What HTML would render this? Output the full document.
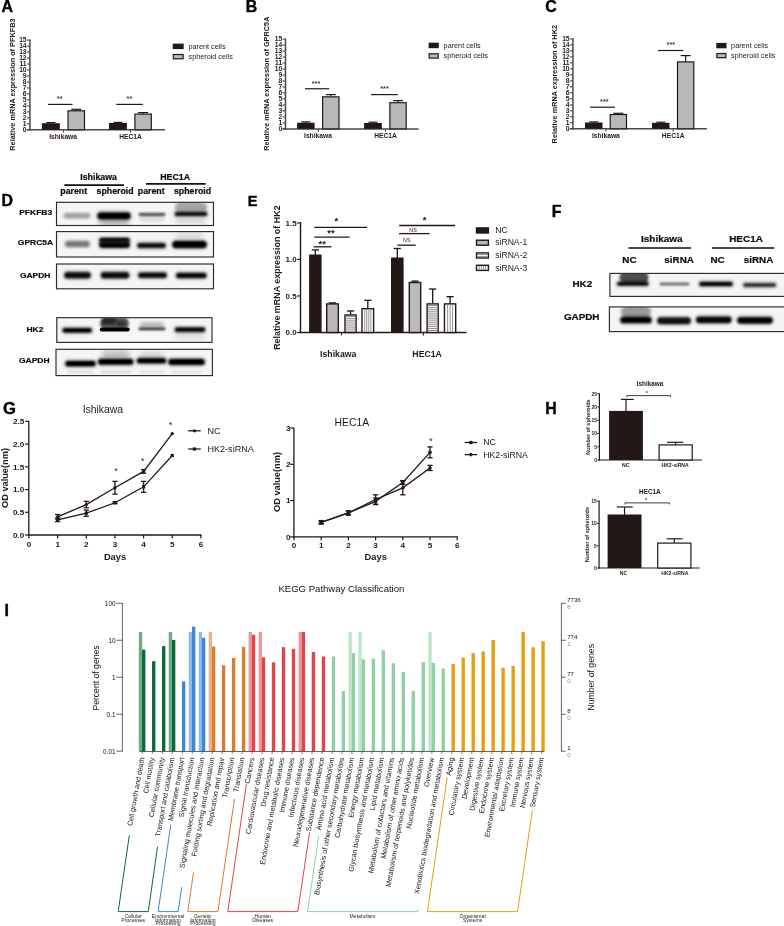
<!DOCTYPE html>
<html><head><meta charset="utf-8"><title>Figure</title>
<style>html,body{margin:0;padding:0;background:#fff;}svg{display:block;font-family:'Liberation Sans', sans-serif;}</style>
</head><body>
<svg width="784" height="926" viewBox="0 0 784 926">
<rect x="0" y="0" width="784" height="926" fill="#ffffff"/>
<line x1="29.90" y1="39.50" x2="29.90" y2="130.50" stroke="#4a4a4a" stroke-width="1.5"/>
<line x1="26.90" y1="129.80" x2="165.00" y2="129.80" stroke="#4a4a4a" stroke-width="1.5"/>
<line x1="26.90" y1="129.80" x2="29.90" y2="129.80" stroke="#4a4a4a" stroke-width="1.1"/>
<text x="26.60" y="132.15" font-size="6.7" font-weight="bold" text-anchor="end" fill="#231815">0</text>
<line x1="26.90" y1="123.82" x2="29.90" y2="123.82" stroke="#4a4a4a" stroke-width="1.1"/>
<text x="26.60" y="126.17" font-size="6.7" font-weight="bold" text-anchor="end" fill="#231815">1</text>
<line x1="26.90" y1="117.84" x2="29.90" y2="117.84" stroke="#4a4a4a" stroke-width="1.1"/>
<text x="26.60" y="120.19" font-size="6.7" font-weight="bold" text-anchor="end" fill="#231815">2</text>
<line x1="26.90" y1="111.86" x2="29.90" y2="111.86" stroke="#4a4a4a" stroke-width="1.1"/>
<text x="26.60" y="114.21" font-size="6.7" font-weight="bold" text-anchor="end" fill="#231815">3</text>
<line x1="26.90" y1="105.88" x2="29.90" y2="105.88" stroke="#4a4a4a" stroke-width="1.1"/>
<text x="26.60" y="108.23" font-size="6.7" font-weight="bold" text-anchor="end" fill="#231815">4</text>
<line x1="26.90" y1="99.90" x2="29.90" y2="99.90" stroke="#4a4a4a" stroke-width="1.1"/>
<text x="26.60" y="102.25" font-size="6.7" font-weight="bold" text-anchor="end" fill="#231815">5</text>
<line x1="26.90" y1="93.92" x2="29.90" y2="93.92" stroke="#4a4a4a" stroke-width="1.1"/>
<text x="26.60" y="96.27" font-size="6.7" font-weight="bold" text-anchor="end" fill="#231815">6</text>
<line x1="26.90" y1="87.94" x2="29.90" y2="87.94" stroke="#4a4a4a" stroke-width="1.1"/>
<text x="26.60" y="90.29" font-size="6.7" font-weight="bold" text-anchor="end" fill="#231815">7</text>
<line x1="26.90" y1="81.96" x2="29.90" y2="81.96" stroke="#4a4a4a" stroke-width="1.1"/>
<text x="26.60" y="84.31" font-size="6.7" font-weight="bold" text-anchor="end" fill="#231815">8</text>
<line x1="26.90" y1="75.98" x2="29.90" y2="75.98" stroke="#4a4a4a" stroke-width="1.1"/>
<text x="26.60" y="78.33" font-size="6.7" font-weight="bold" text-anchor="end" fill="#231815">9</text>
<line x1="26.90" y1="70.00" x2="29.90" y2="70.00" stroke="#4a4a4a" stroke-width="1.1"/>
<text x="26.60" y="72.35" font-size="6.7" font-weight="bold" text-anchor="end" fill="#231815">10</text>
<line x1="26.90" y1="64.02" x2="29.90" y2="64.02" stroke="#4a4a4a" stroke-width="1.1"/>
<text x="26.60" y="66.37" font-size="6.7" font-weight="bold" text-anchor="end" fill="#231815">11</text>
<line x1="26.90" y1="58.04" x2="29.90" y2="58.04" stroke="#4a4a4a" stroke-width="1.1"/>
<text x="26.60" y="60.39" font-size="6.7" font-weight="bold" text-anchor="end" fill="#231815">12</text>
<line x1="26.90" y1="52.06" x2="29.90" y2="52.06" stroke="#4a4a4a" stroke-width="1.1"/>
<text x="26.60" y="54.41" font-size="6.7" font-weight="bold" text-anchor="end" fill="#231815">13</text>
<line x1="26.90" y1="46.08" x2="29.90" y2="46.08" stroke="#4a4a4a" stroke-width="1.1"/>
<text x="26.60" y="48.43" font-size="6.7" font-weight="bold" text-anchor="end" fill="#231815">14</text>
<line x1="26.90" y1="40.10" x2="29.90" y2="40.10" stroke="#4a4a4a" stroke-width="1.1"/>
<text x="26.60" y="42.45" font-size="6.7" font-weight="bold" text-anchor="end" fill="#231815">15</text>
<text x="15.20" y="84.60" font-size="7.32" font-weight="bold" text-anchor="middle" fill="#231815" transform="rotate(-90 15.20 84.60)">Relative mRNA expression of PFKFB3</text>
<rect x="41.90" y="123.20" width="17.90" height="6.60" fill="#231815"/>
<line x1="50.85" y1="122.60" x2="50.85" y2="123.70" stroke="#231815" stroke-width="1.2"/>
<line x1="46.35" y1="122.60" x2="55.35" y2="122.60" stroke="#231815" stroke-width="1.2"/>
<rect x="68.00" y="110.80" width="16.50" height="19.00" fill="#b9b9ba" stroke="#231815" stroke-width="1.2"/>
<line x1="76.25" y1="109.30" x2="76.25" y2="110.70" stroke="#231815" stroke-width="1.2"/>
<line x1="71.25" y1="109.30" x2="81.25" y2="109.30" stroke="#231815" stroke-width="1.2"/>
<rect x="109.00" y="123.00" width="17.90" height="6.80" fill="#231815"/>
<line x1="117.95" y1="122.40" x2="117.95" y2="123.50" stroke="#231815" stroke-width="1.2"/>
<line x1="113.45" y1="122.40" x2="122.45" y2="122.40" stroke="#231815" stroke-width="1.2"/>
<rect x="134.90" y="114.10" width="16.40" height="15.70" fill="#b9b9ba" stroke="#231815" stroke-width="1.2"/>
<line x1="143.10" y1="112.60" x2="143.10" y2="114.00" stroke="#231815" stroke-width="1.2"/>
<line x1="138.10" y1="112.60" x2="148.10" y2="112.60" stroke="#231815" stroke-width="1.2"/>
<line x1="48.00" y1="104.40" x2="72.50" y2="104.40" stroke="#231815" stroke-width="1.2"/>
<text x="59.70" y="101.00" font-size="7.4" font-weight="bold" text-anchor="middle" fill="#3a3a3a">**</text>
<line x1="116.20" y1="104.40" x2="142.90" y2="104.40" stroke="#231815" stroke-width="1.2"/>
<text x="129.50" y="101.00" font-size="7.4" font-weight="bold" text-anchor="middle" fill="#3a3a3a">**</text>
<line x1="63.40" y1="129.80" x2="63.40" y2="132.60" stroke="#4a4a4a" stroke-width="1.1"/>
<line x1="130.50" y1="129.80" x2="130.50" y2="132.60" stroke="#4a4a4a" stroke-width="1.1"/>
<text x="63.10" y="138.90" font-size="6.7" font-weight="bold" text-anchor="middle" fill="#231815">Ishikawa</text>
<text x="130.50" y="138.90" font-size="6.7" font-weight="bold" text-anchor="middle" fill="#231815">HEC1A</text>
<rect x="172.70" y="43.60" width="11.00" height="5.50" fill="#231815"/>
<rect x="173.30" y="54.50" width="9.80" height="4.30" fill="#b9b9ba" stroke="#231815" stroke-width="1.2"/>
<text x="188.50" y="48.80" font-size="7.25" text-anchor="start" fill="#231815">parent cells</text>
<text x="188.50" y="59.10" font-size="7.25" text-anchor="start" fill="#231815">spheroid cells</text>
<text x="1.40" y="11.60" font-size="15.9" font-weight="bold" fill="#000" stroke="#000" stroke-width="0.4" stroke-linejoin="round">A</text>
<line x1="285.50" y1="38.50" x2="285.50" y2="129.60" stroke="#4a4a4a" stroke-width="1.5"/>
<line x1="282.50" y1="128.90" x2="418.60" y2="128.90" stroke="#4a4a4a" stroke-width="1.5"/>
<line x1="282.50" y1="128.90" x2="285.50" y2="128.90" stroke="#4a4a4a" stroke-width="1.1"/>
<text x="282.20" y="131.25" font-size="6.7" font-weight="bold" text-anchor="end" fill="#231815">0</text>
<line x1="282.50" y1="122.91" x2="285.50" y2="122.91" stroke="#4a4a4a" stroke-width="1.1"/>
<text x="282.20" y="125.26" font-size="6.7" font-weight="bold" text-anchor="end" fill="#231815">1</text>
<line x1="282.50" y1="116.93" x2="285.50" y2="116.93" stroke="#4a4a4a" stroke-width="1.1"/>
<text x="282.20" y="119.28" font-size="6.7" font-weight="bold" text-anchor="end" fill="#231815">2</text>
<line x1="282.50" y1="110.94" x2="285.50" y2="110.94" stroke="#4a4a4a" stroke-width="1.1"/>
<text x="282.20" y="113.29" font-size="6.7" font-weight="bold" text-anchor="end" fill="#231815">3</text>
<line x1="282.50" y1="104.95" x2="285.50" y2="104.95" stroke="#4a4a4a" stroke-width="1.1"/>
<text x="282.20" y="107.30" font-size="6.7" font-weight="bold" text-anchor="end" fill="#231815">4</text>
<line x1="282.50" y1="98.97" x2="285.50" y2="98.97" stroke="#4a4a4a" stroke-width="1.1"/>
<text x="282.20" y="101.32" font-size="6.7" font-weight="bold" text-anchor="end" fill="#231815">5</text>
<line x1="282.50" y1="92.98" x2="285.50" y2="92.98" stroke="#4a4a4a" stroke-width="1.1"/>
<text x="282.20" y="95.33" font-size="6.7" font-weight="bold" text-anchor="end" fill="#231815">6</text>
<line x1="282.50" y1="86.99" x2="285.50" y2="86.99" stroke="#4a4a4a" stroke-width="1.1"/>
<text x="282.20" y="89.34" font-size="6.7" font-weight="bold" text-anchor="end" fill="#231815">7</text>
<line x1="282.50" y1="81.01" x2="285.50" y2="81.01" stroke="#4a4a4a" stroke-width="1.1"/>
<text x="282.20" y="83.36" font-size="6.7" font-weight="bold" text-anchor="end" fill="#231815">8</text>
<line x1="282.50" y1="75.02" x2="285.50" y2="75.02" stroke="#4a4a4a" stroke-width="1.1"/>
<text x="282.20" y="77.37" font-size="6.7" font-weight="bold" text-anchor="end" fill="#231815">9</text>
<line x1="282.50" y1="69.03" x2="285.50" y2="69.03" stroke="#4a4a4a" stroke-width="1.1"/>
<text x="282.20" y="71.38" font-size="6.7" font-weight="bold" text-anchor="end" fill="#231815">10</text>
<line x1="282.50" y1="63.05" x2="285.50" y2="63.05" stroke="#4a4a4a" stroke-width="1.1"/>
<text x="282.20" y="65.40" font-size="6.7" font-weight="bold" text-anchor="end" fill="#231815">11</text>
<line x1="282.50" y1="57.06" x2="285.50" y2="57.06" stroke="#4a4a4a" stroke-width="1.1"/>
<text x="282.20" y="59.41" font-size="6.7" font-weight="bold" text-anchor="end" fill="#231815">12</text>
<line x1="282.50" y1="51.07" x2="285.50" y2="51.07" stroke="#4a4a4a" stroke-width="1.1"/>
<text x="282.20" y="53.42" font-size="6.7" font-weight="bold" text-anchor="end" fill="#231815">13</text>
<line x1="282.50" y1="45.09" x2="285.50" y2="45.09" stroke="#4a4a4a" stroke-width="1.1"/>
<text x="282.20" y="47.44" font-size="6.7" font-weight="bold" text-anchor="end" fill="#231815">14</text>
<line x1="282.50" y1="39.10" x2="285.50" y2="39.10" stroke="#4a4a4a" stroke-width="1.1"/>
<text x="282.20" y="41.45" font-size="6.7" font-weight="bold" text-anchor="end" fill="#231815">15</text>
<text x="269.30" y="83.70" font-size="7.32" font-weight="bold" text-anchor="middle" fill="#231815" transform="rotate(-90 269.30 83.70)">Relative mRNA expression of GPRC5A</text>
<rect x="297.10" y="122.70" width="17.50" height="6.20" fill="#231815"/>
<line x1="305.85" y1="121.90" x2="305.85" y2="123.20" stroke="#231815" stroke-width="1.2"/>
<line x1="301.35" y1="121.90" x2="310.35" y2="121.90" stroke="#231815" stroke-width="1.2"/>
<rect x="322.60" y="96.85" width="16.40" height="32.05" fill="#b9b9ba" stroke="#231815" stroke-width="1.2"/>
<line x1="330.80" y1="94.60" x2="330.80" y2="96.75" stroke="#231815" stroke-width="1.2"/>
<line x1="325.80" y1="94.60" x2="335.80" y2="94.60" stroke="#231815" stroke-width="1.2"/>
<rect x="364.10" y="123.00" width="17.70" height="5.90" fill="#231815"/>
<line x1="372.95" y1="122.20" x2="372.95" y2="123.50" stroke="#231815" stroke-width="1.2"/>
<line x1="368.45" y1="122.20" x2="377.45" y2="122.20" stroke="#231815" stroke-width="1.2"/>
<rect x="389.90" y="102.70" width="16.30" height="26.20" fill="#b9b9ba" stroke="#231815" stroke-width="1.2"/>
<line x1="398.05" y1="100.60" x2="398.05" y2="102.60" stroke="#231815" stroke-width="1.2"/>
<line x1="393.05" y1="100.60" x2="403.05" y2="100.60" stroke="#231815" stroke-width="1.2"/>
<line x1="305.00" y1="88.75" x2="329.30" y2="88.75" stroke="#231815" stroke-width="1.2"/>
<text x="316.00" y="85.60" font-size="7.4" font-weight="bold" text-anchor="middle" fill="#3a3a3a">***</text>
<line x1="371.00" y1="94.60" x2="397.90" y2="94.60" stroke="#231815" stroke-width="1.2"/>
<text x="384.50" y="91.40" font-size="7.4" font-weight="bold" text-anchor="middle" fill="#3a3a3a">***</text>
<line x1="318.30" y1="128.90" x2="318.30" y2="131.70" stroke="#4a4a4a" stroke-width="1.1"/>
<line x1="385.50" y1="128.90" x2="385.50" y2="131.70" stroke="#4a4a4a" stroke-width="1.1"/>
<text x="318.00" y="137.90" font-size="6.7" font-weight="bold" text-anchor="middle" fill="#231815">Ishikawa</text>
<text x="385.50" y="137.90" font-size="6.7" font-weight="bold" text-anchor="middle" fill="#231815">HEC1A</text>
<rect x="428.60" y="42.70" width="10.20" height="5.50" fill="#231815"/>
<rect x="429.20" y="53.80" width="9.00" height="4.30" fill="#b9b9ba" stroke="#231815" stroke-width="1.2"/>
<text x="443.60" y="47.90" font-size="7.25" text-anchor="start" fill="#231815">parent cells</text>
<text x="443.60" y="58.40" font-size="7.25" text-anchor="start" fill="#231815">spheroid cells</text>
<text x="245.80" y="11.80" font-size="15.9" font-weight="bold" fill="#000" stroke="#000" stroke-width="0.4" stroke-linejoin="round">B</text>
<line x1="572.90" y1="38.30" x2="572.90" y2="129.50" stroke="#4a4a4a" stroke-width="1.5"/>
<line x1="569.90" y1="128.80" x2="706.90" y2="128.80" stroke="#4a4a4a" stroke-width="1.5"/>
<line x1="569.90" y1="128.80" x2="572.90" y2="128.80" stroke="#4a4a4a" stroke-width="1.1"/>
<text x="569.60" y="131.15" font-size="6.7" font-weight="bold" text-anchor="end" fill="#231815">0</text>
<line x1="569.90" y1="122.81" x2="572.90" y2="122.81" stroke="#4a4a4a" stroke-width="1.1"/>
<text x="569.60" y="125.16" font-size="6.7" font-weight="bold" text-anchor="end" fill="#231815">1</text>
<line x1="569.90" y1="116.81" x2="572.90" y2="116.81" stroke="#4a4a4a" stroke-width="1.1"/>
<text x="569.60" y="119.16" font-size="6.7" font-weight="bold" text-anchor="end" fill="#231815">2</text>
<line x1="569.90" y1="110.82" x2="572.90" y2="110.82" stroke="#4a4a4a" stroke-width="1.1"/>
<text x="569.60" y="113.17" font-size="6.7" font-weight="bold" text-anchor="end" fill="#231815">3</text>
<line x1="569.90" y1="104.83" x2="572.90" y2="104.83" stroke="#4a4a4a" stroke-width="1.1"/>
<text x="569.60" y="107.18" font-size="6.7" font-weight="bold" text-anchor="end" fill="#231815">4</text>
<line x1="569.90" y1="98.83" x2="572.90" y2="98.83" stroke="#4a4a4a" stroke-width="1.1"/>
<text x="569.60" y="101.18" font-size="6.7" font-weight="bold" text-anchor="end" fill="#231815">5</text>
<line x1="569.90" y1="92.84" x2="572.90" y2="92.84" stroke="#4a4a4a" stroke-width="1.1"/>
<text x="569.60" y="95.19" font-size="6.7" font-weight="bold" text-anchor="end" fill="#231815">6</text>
<line x1="569.90" y1="86.85" x2="572.90" y2="86.85" stroke="#4a4a4a" stroke-width="1.1"/>
<text x="569.60" y="89.20" font-size="6.7" font-weight="bold" text-anchor="end" fill="#231815">7</text>
<line x1="569.90" y1="80.85" x2="572.90" y2="80.85" stroke="#4a4a4a" stroke-width="1.1"/>
<text x="569.60" y="83.20" font-size="6.7" font-weight="bold" text-anchor="end" fill="#231815">8</text>
<line x1="569.90" y1="74.86" x2="572.90" y2="74.86" stroke="#4a4a4a" stroke-width="1.1"/>
<text x="569.60" y="77.21" font-size="6.7" font-weight="bold" text-anchor="end" fill="#231815">9</text>
<line x1="569.90" y1="68.87" x2="572.90" y2="68.87" stroke="#4a4a4a" stroke-width="1.1"/>
<text x="569.60" y="71.22" font-size="6.7" font-weight="bold" text-anchor="end" fill="#231815">10</text>
<line x1="569.90" y1="62.87" x2="572.90" y2="62.87" stroke="#4a4a4a" stroke-width="1.1"/>
<text x="569.60" y="65.22" font-size="6.7" font-weight="bold" text-anchor="end" fill="#231815">11</text>
<line x1="569.90" y1="56.88" x2="572.90" y2="56.88" stroke="#4a4a4a" stroke-width="1.1"/>
<text x="569.60" y="59.23" font-size="6.7" font-weight="bold" text-anchor="end" fill="#231815">12</text>
<line x1="569.90" y1="50.89" x2="572.90" y2="50.89" stroke="#4a4a4a" stroke-width="1.1"/>
<text x="569.60" y="53.24" font-size="6.7" font-weight="bold" text-anchor="end" fill="#231815">13</text>
<line x1="569.90" y1="44.89" x2="572.90" y2="44.89" stroke="#4a4a4a" stroke-width="1.1"/>
<text x="569.60" y="47.24" font-size="6.7" font-weight="bold" text-anchor="end" fill="#231815">14</text>
<line x1="569.90" y1="38.90" x2="572.90" y2="38.90" stroke="#4a4a4a" stroke-width="1.1"/>
<text x="569.60" y="41.25" font-size="6.7" font-weight="bold" text-anchor="end" fill="#231815">15</text>
<text x="557.20" y="84.20" font-size="7.32" font-weight="bold" text-anchor="middle" fill="#231815" transform="rotate(-90 557.20 84.20)">Relative mRNA expression of HK2</text>
<rect x="585.00" y="122.50" width="17.50" height="6.30" fill="#231815"/>
<line x1="593.75" y1="121.90" x2="593.75" y2="123.00" stroke="#231815" stroke-width="1.2"/>
<line x1="589.25" y1="121.90" x2="598.25" y2="121.90" stroke="#231815" stroke-width="1.2"/>
<rect x="610.20" y="114.50" width="16.30" height="14.30" fill="#b9b9ba" stroke="#231815" stroke-width="1.2"/>
<line x1="618.35" y1="113.30" x2="618.35" y2="114.40" stroke="#231815" stroke-width="1.2"/>
<line x1="613.35" y1="113.30" x2="623.35" y2="113.30" stroke="#231815" stroke-width="1.2"/>
<rect x="652.00" y="122.80" width="17.50" height="6.00" fill="#231815"/>
<line x1="660.75" y1="122.20" x2="660.75" y2="123.30" stroke="#231815" stroke-width="1.2"/>
<line x1="656.25" y1="122.20" x2="665.25" y2="122.20" stroke="#231815" stroke-width="1.2"/>
<rect x="677.50" y="61.90" width="16.30" height="66.90" fill="#b9b9ba" stroke="#231815" stroke-width="1.2"/>
<line x1="685.65" y1="55.60" x2="685.65" y2="61.80" stroke="#231815" stroke-width="1.2"/>
<line x1="680.65" y1="55.60" x2="690.65" y2="55.60" stroke="#231815" stroke-width="1.2"/>
<line x1="590.20" y1="107.20" x2="615.00" y2="107.20" stroke="#231815" stroke-width="1.2"/>
<text x="604.40" y="104.40" font-size="7.4" font-weight="bold" text-anchor="middle" fill="#3a3a3a">***</text>
<line x1="658.00" y1="50.50" x2="683.30" y2="50.50" stroke="#231815" stroke-width="1.2"/>
<text x="670.90" y="47.30" font-size="7.4" font-weight="bold" text-anchor="middle" fill="#3a3a3a">***</text>
<line x1="606.00" y1="128.80" x2="606.00" y2="131.60" stroke="#4a4a4a" stroke-width="1.1"/>
<line x1="673.20" y1="128.80" x2="673.20" y2="131.60" stroke="#4a4a4a" stroke-width="1.1"/>
<text x="605.90" y="138.00" font-size="6.7" font-weight="bold" text-anchor="middle" fill="#231815">Ishikawa</text>
<text x="673.20" y="138.00" font-size="6.7" font-weight="bold" text-anchor="middle" fill="#231815">HEC1A</text>
<rect x="716.30" y="42.90" width="10.20" height="5.40" fill="#231815"/>
<rect x="716.90" y="53.50" width="9.00" height="4.20" fill="#b9b9ba" stroke="#231815" stroke-width="1.2"/>
<text x="731.10" y="48.05" font-size="7.25" text-anchor="start" fill="#231815">parent cells</text>
<text x="731.10" y="58.05" font-size="7.25" text-anchor="start" fill="#231815">spheroid cells</text>
<text x="545.20" y="12.00" font-size="15.9" font-weight="bold" fill="#000" stroke="#000" stroke-width="0.4" stroke-linejoin="round">C</text>
<defs>
<filter id="b1" x="-20%" y="-100%" width="140%" height="300%"><feGaussianBlur stdDeviation="1.1"/></filter>
<filter id="b2" x="-20%" y="-100%" width="140%" height="300%"><feGaussianBlur stdDeviation="1.8"/></filter>
<filter id="b3" x="-20%" y="-50%" width="140%" height="200%"><feGaussianBlur stdDeviation="2.6"/></filter>
<filter id="b0" x="-20%" y="-100%" width="140%" height="300%"><feGaussianBlur stdDeviation="0.7"/></filter>
<pattern id="hz" width="4" height="2.07" patternUnits="userSpaceOnUse"><rect width="4" height="2.07" fill="#fff"/><rect y="0.5" width="4" height="0.85" fill="#5c5c5c"/></pattern>
<pattern id="vt" width="2.2" height="4" patternUnits="userSpaceOnUse"><rect width="2.2" height="4" fill="#fff"/><rect x="0.4" width="0.8" height="4" fill="#747474"/></pattern>
</defs>
<text x="1.50" y="205.50" font-size="15.9" font-weight="bold" fill="#000" stroke="#000" stroke-width="0.4" stroke-linejoin="round">D</text>
<text transform="translate(98.60 179.50) scale(1.06 1)" font-size="8.3" font-weight="bold" text-anchor="middle" fill="#0d0d0d" stroke="#0d0d0d" stroke-width="0.2">Ishikawa</text>
<text transform="translate(175.10 179.50) scale(1.06 1)" font-size="8.3" font-weight="bold" text-anchor="middle" fill="#0d0d0d" stroke="#0d0d0d" stroke-width="0.2">HEC1A</text>
<line x1="64.30" y1="185.10" x2="124.00" y2="185.10" stroke="#111" stroke-width="1.6"/>
<line x1="146.00" y1="183.90" x2="205.70" y2="183.90" stroke="#111" stroke-width="1.6"/>
<text transform="translate(73.70 193.90) scale(1.06 1)" font-size="8.3" font-weight="bold" text-anchor="middle" fill="#0d0d0d" stroke="#0d0d0d" stroke-width="0.2">parent</text>
<text transform="translate(115.10 193.90) scale(1.06 1)" font-size="8.3" font-weight="bold" text-anchor="middle" fill="#0d0d0d" stroke="#0d0d0d" stroke-width="0.2">spheroid</text>
<text transform="translate(151.20 193.90) scale(1.06 1)" font-size="8.3" font-weight="bold" text-anchor="middle" fill="#0d0d0d" stroke="#0d0d0d" stroke-width="0.2">parent</text>
<text transform="translate(192.50 193.90) scale(1.06 1)" font-size="8.3" font-weight="bold" text-anchor="middle" fill="#0d0d0d" stroke="#0d0d0d" stroke-width="0.2">spheroid</text>
<text transform="translate(19.20 214.60) scale(1.06 1)" font-size="8.0" font-weight="bold" text-anchor="start" fill="#0d0d0d" stroke="#0d0d0d" stroke-width="0.2">PFKFB3</text>
<text transform="translate(17.80 244.80) scale(1.06 1)" font-size="8.0" font-weight="bold" text-anchor="start" fill="#0d0d0d" stroke="#0d0d0d" stroke-width="0.2">GPRC5A</text>
<text transform="translate(19.90 278.10) scale(1.06 1)" font-size="8.0" font-weight="bold" text-anchor="start" fill="#0d0d0d" stroke="#0d0d0d" stroke-width="0.2">GAPDH</text>
<text transform="translate(26.50 332.00) scale(1.06 1)" font-size="8.0" font-weight="bold" text-anchor="start" fill="#0d0d0d" stroke="#0d0d0d" stroke-width="0.2">HK2</text>
<text transform="translate(19.00 363.20) scale(1.06 1)" font-size="8.0" font-weight="bold" text-anchor="start" fill="#0d0d0d" stroke="#0d0d0d" stroke-width="0.2">GAPDH</text>
<clipPath id="cD1"><rect x="56.50" y="202.30" width="157.00" height="23.20"/></clipPath>
<rect x="56.50" y="202.30" width="157.00" height="23.20" fill="#f5f5f5"/>
<g clip-path="url(#cD1)">
<rect x="63.50" y="213.05" width="27.00" height="5.50" rx="2.75" fill="#000" opacity="0.36" filter="url(#b2)"/>
<rect x="99.00" y="219.50" width="30.00" height="6.00" rx="3.00" fill="#000" opacity="0.3" filter="url(#b3)"/>
<rect x="96.00" y="210.80" width="36.00" height="10.00" rx="5.00" fill="#000" opacity="0.3" filter="url(#b2)"/>
<rect x="97.50" y="212.40" width="33.00" height="6.80" rx="3.40" fill="#000" opacity="1.0" filter="url(#b1)"/>
<rect x="100.00" y="214.00" width="28.00" height="3.60" rx="1.80" fill="#000" opacity="1.0" filter="url(#b0)"/>
<rect x="138.50" y="212.75" width="27.00" height="3.50" rx="1.75" fill="#000" opacity="0.65" filter="url(#b1)"/>
<rect x="139.00" y="217.50" width="26.00" height="4.00" rx="2.00" fill="#000" opacity="0.1" filter="url(#b2)"/>
<rect x="175.00" y="202.00" width="32.00" height="11.00" rx="5.50" fill="#000" opacity="0.33" filter="url(#b2)"/>
<rect x="176.00" y="217.00" width="30.00" height="6.00" rx="3.00" fill="#000" opacity="0.15" filter="url(#b3)"/>
<rect x="173.50" y="210.70" width="35.00" height="6.60" rx="3.30" fill="#000" opacity="0.3" filter="url(#b2)"/>
<rect x="175.00" y="212.30" width="32.00" height="3.40" rx="1.70" fill="#000" opacity="1.0" filter="url(#b1)"/>
</g>
<rect x="56.50" y="202.30" width="157.00" height="23.20" fill="none" stroke="#2a2a2a" stroke-width="1.15"/>
<clipPath id="cD2"><rect x="56.50" y="231.60" width="157.00" height="25.40"/></clipPath>
<rect x="56.50" y="231.60" width="157.00" height="25.40" fill="#f5f5f5"/>
<g clip-path="url(#cD2)">
<rect x="65.00" y="240.75" width="25.00" height="6.50" rx="3.25" fill="#000" opacity="0.52" filter="url(#b2)"/>
<rect x="99.50" y="238.10" width="30.00" height="9.00" rx="4.50" fill="#000" opacity="0.6" filter="url(#b1)"/>
<rect x="98.00" y="236.70" width="33.00" height="6.60" rx="3.30" fill="#000" opacity="0.3" filter="url(#b2)"/>
<rect x="99.50" y="238.30" width="30.00" height="3.40" rx="1.70" fill="#000" opacity="0.9" filter="url(#b1)"/>
<rect x="98.00" y="241.20" width="33.00" height="8.00" rx="4.00" fill="#000" opacity="0.3" filter="url(#b2)"/>
<rect x="99.50" y="242.80" width="30.00" height="4.80" rx="2.40" fill="#000" opacity="1.0" filter="url(#b1)"/>
<rect x="136.00" y="241.60" width="31.00" height="7.80" rx="3.90" fill="#000" opacity="0.3" filter="url(#b2)"/>
<rect x="137.50" y="243.20" width="28.00" height="4.60" rx="2.30" fill="#000" opacity="0.95" filter="url(#b1)"/>
<rect x="171.00" y="239.40" width="37.00" height="10.20" rx="5.10" fill="#000" opacity="0.3" filter="url(#b2)"/>
<rect x="172.50" y="241.00" width="34.00" height="7.00" rx="3.50" fill="#000" opacity="1.0" filter="url(#b1)"/>
<rect x="175.50" y="243.00" width="28.00" height="3.00" rx="1.50" fill="#000" opacity="1.0" filter="url(#b0)"/>
<rect x="175.50" y="233.00" width="28.00" height="6.00" rx="3.00" fill="#000" opacity="0.12" filter="url(#b3)"/>
</g>
<rect x="56.50" y="231.60" width="157.00" height="25.40" fill="none" stroke="#2a2a2a" stroke-width="1.15"/>
<clipPath id="cD3"><rect x="56.50" y="264.00" width="157.00" height="24.80"/></clipPath>
<rect x="56.50" y="264.00" width="157.00" height="24.80" fill="#f5f5f5"/>
<g clip-path="url(#cD3)">
<rect x="63.00" y="270.60" width="29.00" height="9.20" rx="4.60" fill="#000" opacity="0.3" filter="url(#b2)"/>
<rect x="64.50" y="272.20" width="26.00" height="6.00" rx="3.00" fill="#000" opacity="0.92" filter="url(#b1)"/>
<rect x="99.50" y="270.60" width="31.00" height="9.20" rx="4.60" fill="#000" opacity="0.3" filter="url(#b2)"/>
<rect x="101.00" y="272.20" width="28.00" height="6.00" rx="3.00" fill="#000" opacity="0.92" filter="url(#b1)"/>
<rect x="137.00" y="271.10" width="31.00" height="8.20" rx="4.10" fill="#000" opacity="0.3" filter="url(#b2)"/>
<rect x="138.50" y="272.70" width="28.00" height="5.00" rx="2.50" fill="#000" opacity="0.95" filter="url(#b1)"/>
<rect x="174.80" y="271.50" width="33.00" height="8.20" rx="4.10" fill="#000" opacity="0.3" filter="url(#b2)"/>
<rect x="176.30" y="273.10" width="30.00" height="5.00" rx="2.50" fill="#000" opacity="0.95" filter="url(#b1)"/>
</g>
<rect x="56.50" y="264.00" width="157.00" height="24.80" fill="none" stroke="#2a2a2a" stroke-width="1.15"/>
<clipPath id="cD4"><rect x="56.80" y="317.70" width="155.20" height="24.70"/></clipPath>
<rect x="56.80" y="317.70" width="155.20" height="24.70" fill="#f5f5f5"/>
<g clip-path="url(#cD4)">
<rect x="61.20" y="326.60" width="32.00" height="7.40" rx="3.70" fill="#000" opacity="0.3" filter="url(#b2)"/>
<rect x="62.70" y="328.20" width="29.00" height="4.20" rx="2.10" fill="#000" opacity="1.0" filter="url(#b1)"/>
<rect x="65.20" y="329.30" width="24.00" height="2.00" rx="1.00" fill="#000" opacity="1.0" filter="url(#b0)"/>
<rect x="100.00" y="317.50" width="29.00" height="12.00" rx="6.00" fill="#000" opacity="0.66" filter="url(#b1)"/>
<rect x="102.00" y="317.50" width="14.00" height="7.00" rx="3.50" fill="#000" opacity="0.55" filter="url(#b1)"/>
<rect x="116.50" y="321.00" width="9.00" height="5.00" rx="2.50" fill="#000" opacity="0.4" filter="url(#b1)"/>
<rect x="99.80" y="327.60" width="30.00" height="4.00" rx="2.00" fill="#000" opacity="1.0" filter="url(#b0)"/>
<rect x="140.00" y="322.00" width="24.00" height="6.00" rx="3.00" fill="#000" opacity="0.22" filter="url(#b2)"/>
<rect x="138.50" y="327.50" width="27.00" height="2.80" rx="1.40" fill="#000" opacity="0.8" filter="url(#b1)"/>
<rect x="173.50" y="325.95" width="33.00" height="7.50" rx="3.75" fill="#000" opacity="0.3" filter="url(#b2)"/>
<rect x="175.00" y="327.55" width="30.00" height="4.30" rx="2.15" fill="#000" opacity="1.0" filter="url(#b1)"/>
<rect x="175.00" y="334.50" width="30.00" height="5.00" rx="2.50" fill="#000" opacity="0.1" filter="url(#b3)"/>
</g>
<rect x="56.80" y="317.70" width="155.20" height="24.70" fill="none" stroke="#2a2a2a" stroke-width="1.15"/>
<clipPath id="cD5"><rect x="56.00" y="349.30" width="156.40" height="26.30"/></clipPath>
<rect x="56.00" y="349.30" width="156.40" height="26.30" fill="#f5f5f5"/>
<g clip-path="url(#cD5)">
<rect x="64.00" y="359.40" width="33.00" height="8.40" rx="4.20" fill="#000" opacity="0.3" filter="url(#b2)"/>
<rect x="65.50" y="361.00" width="30.00" height="5.20" rx="2.60" fill="#000" opacity="1.0" filter="url(#b1)"/>
<rect x="67.50" y="362.30" width="26.00" height="2.60" rx="1.30" fill="#000" opacity="1.0" filter="url(#b0)"/>
<rect x="101.70" y="350.50" width="28.00" height="9.00" rx="4.50" fill="#000" opacity="0.22" filter="url(#b3)"/>
<rect x="96.70" y="357.40" width="38.00" height="8.80" rx="4.40" fill="#000" opacity="0.3" filter="url(#b2)"/>
<rect x="98.20" y="359.00" width="35.00" height="5.60" rx="2.80" fill="#000" opacity="1.0" filter="url(#b1)"/>
<rect x="100.70" y="360.30" width="30.00" height="3.00" rx="1.50" fill="#000" opacity="1.0" filter="url(#b0)"/>
<rect x="139.50" y="352.50" width="24.00" height="6.00" rx="3.00" fill="#000" opacity="0.15" filter="url(#b3)"/>
<rect x="135.50" y="356.70" width="32.00" height="8.20" rx="4.10" fill="#000" opacity="0.3" filter="url(#b2)"/>
<rect x="137.00" y="358.30" width="29.00" height="5.00" rx="2.50" fill="#000" opacity="1.0" filter="url(#b1)"/>
<rect x="139.50" y="359.60" width="24.00" height="2.40" rx="1.20" fill="#000" opacity="1.0" filter="url(#b0)"/>
<rect x="167.10" y="357.40" width="39.00" height="9.00" rx="4.50" fill="#000" opacity="0.3" filter="url(#b2)"/>
<rect x="168.60" y="359.00" width="36.00" height="5.80" rx="2.90" fill="#000" opacity="1.0" filter="url(#b1)"/>
<rect x="171.10" y="360.40" width="31.00" height="3.00" rx="1.50" fill="#000" opacity="1.0" filter="url(#b0)"/>
<rect x="67.00" y="371.00" width="26.00" height="2.00" rx="1.00" fill="#000" opacity="0.12" filter="url(#b1)"/>
<rect x="101.00" y="371.00" width="30.00" height="2.00" rx="1.00" fill="#000" opacity="0.15" filter="url(#b1)"/>
<rect x="139.00" y="371.00" width="26.00" height="2.00" rx="1.00" fill="#000" opacity="0.1" filter="url(#b1)"/>
<rect x="172.00" y="371.00" width="30.00" height="2.00" rx="1.00" fill="#000" opacity="0.1" filter="url(#b1)"/>
</g>
<rect x="56.00" y="349.30" width="156.40" height="26.30" fill="none" stroke="#2a2a2a" stroke-width="1.15"/>
<text x="247.70" y="205.70" font-size="14.5" font-weight="bold" fill="#000" stroke="#000" stroke-width="0.4" stroke-linejoin="round">E</text>
<line x1="300.50" y1="222.20" x2="300.50" y2="333.20" stroke="#231815" stroke-width="1.4"/>
<line x1="299.80" y1="332.50" x2="466.50" y2="332.50" stroke="#231815" stroke-width="1.4"/>
<line x1="297.20" y1="332.50" x2="300.50" y2="332.50" stroke="#231815" stroke-width="1.2"/>
<text x="296.60" y="335.20" font-size="8.0" font-weight="bold" text-anchor="end" fill="#231815">0.0</text>
<line x1="297.20" y1="295.97" x2="300.50" y2="295.97" stroke="#231815" stroke-width="1.2"/>
<text x="296.60" y="298.67" font-size="8.0" font-weight="bold" text-anchor="end" fill="#231815">0.5</text>
<line x1="297.20" y1="259.43" x2="300.50" y2="259.43" stroke="#231815" stroke-width="1.2"/>
<text x="296.60" y="262.13" font-size="8.0" font-weight="bold" text-anchor="end" fill="#231815">1.0</text>
<line x1="297.20" y1="222.90" x2="300.50" y2="222.90" stroke="#231815" stroke-width="1.2"/>
<text x="296.60" y="225.60" font-size="8.0" font-weight="bold" text-anchor="end" fill="#231815">1.5</text>
<text x="279.80" y="277.60" font-size="8.93" font-weight="bold" text-anchor="middle" fill="#231815" transform="rotate(-90 279.80 277.60)">Relative mRNA expression of HK2</text>
<rect x="309.10" y="254.50" width="12.50" height="78.00" fill="#231815"/>
<line x1="315.35" y1="249.90" x2="315.35" y2="255.00" stroke="#231815" stroke-width="1.35"/>
<line x1="311.75" y1="249.90" x2="318.95" y2="249.90" stroke="#231815" stroke-width="1.35"/>
<rect x="326.70" y="303.90" width="11.60" height="28.60" fill="#b9b9ba" stroke="#231815" stroke-width="1.4"/>
<line x1="332.50" y1="302.90" x2="332.50" y2="303.70" stroke="#231815" stroke-width="1.35"/>
<line x1="328.90" y1="302.90" x2="336.10" y2="302.90" stroke="#231815" stroke-width="1.35"/>
<rect x="345.00" y="315.00" width="11.10" height="17.50" fill="#fff" stroke="#231815" stroke-width="1.4"/>
<line x1="345.70" y1="316.70" x2="355.40" y2="316.70" stroke="#6a6a6a" stroke-width="0.8"/>
<line x1="345.70" y1="318.77" x2="355.40" y2="318.77" stroke="#6a6a6a" stroke-width="0.8"/>
<line x1="345.70" y1="320.84" x2="355.40" y2="320.84" stroke="#6a6a6a" stroke-width="0.8"/>
<line x1="345.70" y1="322.91" x2="355.40" y2="322.91" stroke="#6a6a6a" stroke-width="0.8"/>
<line x1="345.70" y1="324.98" x2="355.40" y2="324.98" stroke="#6a6a6a" stroke-width="0.8"/>
<line x1="345.70" y1="327.05" x2="355.40" y2="327.05" stroke="#6a6a6a" stroke-width="0.8"/>
<line x1="345.70" y1="329.12" x2="355.40" y2="329.12" stroke="#6a6a6a" stroke-width="0.8"/>
<line x1="345.70" y1="331.19" x2="355.40" y2="331.19" stroke="#6a6a6a" stroke-width="0.8"/>
<line x1="350.55" y1="311.00" x2="350.55" y2="314.80" stroke="#231815" stroke-width="1.35"/>
<line x1="346.95" y1="311.00" x2="354.15" y2="311.00" stroke="#231815" stroke-width="1.35"/>
<rect x="362.00" y="308.70" width="11.60" height="23.80" fill="#fff" stroke="#231815" stroke-width="1.4"/>
<line x1="364.74" y1="309.40" x2="364.74" y2="331.80" stroke="#7a7a7a" stroke-width="0.8"/>
<line x1="366.78" y1="309.40" x2="366.78" y2="331.80" stroke="#7a7a7a" stroke-width="0.8"/>
<line x1="368.82" y1="309.40" x2="368.82" y2="331.80" stroke="#7a7a7a" stroke-width="0.8"/>
<line x1="370.86" y1="309.40" x2="370.86" y2="331.80" stroke="#7a7a7a" stroke-width="0.8"/>
<line x1="367.80" y1="300.30" x2="367.80" y2="308.50" stroke="#231815" stroke-width="1.35"/>
<line x1="364.20" y1="300.30" x2="371.40" y2="300.30" stroke="#231815" stroke-width="1.35"/>
<rect x="391.00" y="257.50" width="12.60" height="75.00" fill="#231815"/>
<line x1="397.30" y1="248.50" x2="397.30" y2="258.00" stroke="#231815" stroke-width="1.35"/>
<line x1="393.70" y1="248.50" x2="400.90" y2="248.50" stroke="#231815" stroke-width="1.35"/>
<rect x="409.30" y="282.50" width="11.40" height="50.00" fill="#b9b9ba" stroke="#231815" stroke-width="1.4"/>
<line x1="415.00" y1="281.10" x2="415.00" y2="282.30" stroke="#231815" stroke-width="1.35"/>
<line x1="411.40" y1="281.10" x2="418.60" y2="281.10" stroke="#231815" stroke-width="1.35"/>
<rect x="427.10" y="303.90" width="11.10" height="28.60" fill="#fff" stroke="#231815" stroke-width="1.4"/>
<line x1="427.80" y1="305.60" x2="437.50" y2="305.60" stroke="#6a6a6a" stroke-width="0.8"/>
<line x1="427.80" y1="307.67" x2="437.50" y2="307.67" stroke="#6a6a6a" stroke-width="0.8"/>
<line x1="427.80" y1="309.74" x2="437.50" y2="309.74" stroke="#6a6a6a" stroke-width="0.8"/>
<line x1="427.80" y1="311.81" x2="437.50" y2="311.81" stroke="#6a6a6a" stroke-width="0.8"/>
<line x1="427.80" y1="313.88" x2="437.50" y2="313.88" stroke="#6a6a6a" stroke-width="0.8"/>
<line x1="427.80" y1="315.95" x2="437.50" y2="315.95" stroke="#6a6a6a" stroke-width="0.8"/>
<line x1="427.80" y1="318.02" x2="437.50" y2="318.02" stroke="#6a6a6a" stroke-width="0.8"/>
<line x1="427.80" y1="320.09" x2="437.50" y2="320.09" stroke="#6a6a6a" stroke-width="0.8"/>
<line x1="427.80" y1="322.16" x2="437.50" y2="322.16" stroke="#6a6a6a" stroke-width="0.8"/>
<line x1="427.80" y1="324.23" x2="437.50" y2="324.23" stroke="#6a6a6a" stroke-width="0.8"/>
<line x1="427.80" y1="326.30" x2="437.50" y2="326.30" stroke="#6a6a6a" stroke-width="0.8"/>
<line x1="427.80" y1="328.37" x2="437.50" y2="328.37" stroke="#6a6a6a" stroke-width="0.8"/>
<line x1="427.80" y1="330.44" x2="437.50" y2="330.44" stroke="#6a6a6a" stroke-width="0.8"/>
<line x1="432.65" y1="289.05" x2="432.65" y2="303.70" stroke="#231815" stroke-width="1.35"/>
<line x1="429.05" y1="289.05" x2="436.25" y2="289.05" stroke="#231815" stroke-width="1.35"/>
<rect x="444.45" y="303.90" width="11.25" height="28.60" fill="#fff" stroke="#231815" stroke-width="1.4"/>
<line x1="447.61" y1="304.60" x2="447.61" y2="331.80" stroke="#7a7a7a" stroke-width="0.8"/>
<line x1="450.07" y1="304.60" x2="450.07" y2="331.80" stroke="#7a7a7a" stroke-width="0.8"/>
<line x1="452.54" y1="304.60" x2="452.54" y2="331.80" stroke="#7a7a7a" stroke-width="0.8"/>
<line x1="450.07" y1="296.70" x2="450.07" y2="303.70" stroke="#231815" stroke-width="1.35"/>
<line x1="446.47" y1="296.70" x2="453.68" y2="296.70" stroke="#231815" stroke-width="1.35"/>
<line x1="314.30" y1="227.30" x2="367.00" y2="227.30" stroke="#231815" stroke-width="1.3"/>
<text x="336.30" y="223.70" font-size="9.5" font-weight="bold" text-anchor="middle" fill="#231815">*</text>
<line x1="314.30" y1="237.10" x2="349.60" y2="237.10" stroke="#231815" stroke-width="1.3"/>
<text x="330.90" y="236.20" font-size="9.5" font-weight="bold" text-anchor="middle" fill="#231815">**</text>
<line x1="313.60" y1="246.80" x2="331.40" y2="246.80" stroke="#231815" stroke-width="1.3"/>
<text x="322.30" y="246.60" font-size="9.5" font-weight="bold" text-anchor="middle" fill="#231815">**</text>
<line x1="399.10" y1="225.50" x2="455.00" y2="225.50" stroke="#231815" stroke-width="1.3"/>
<text x="424.60" y="222.60" font-size="9.5" font-weight="bold" text-anchor="middle" fill="#231815">*</text>
<line x1="399.10" y1="233.60" x2="429.60" y2="233.60" stroke="#231815" stroke-width="1.3"/>
<text x="413.00" y="231.80" font-size="5.3" text-anchor="middle" fill="#231815">NS</text>
<line x1="397.30" y1="245.20" x2="415.70" y2="245.20" stroke="#231815" stroke-width="1.3"/>
<text x="406.80" y="241.60" font-size="5.3" text-anchor="middle" fill="#231815">NS</text>
<line x1="341.60" y1="332.50" x2="341.60" y2="335.50" stroke="#231815" stroke-width="1"/>
<line x1="423.40" y1="332.50" x2="423.40" y2="335.50" stroke="#231815" stroke-width="1"/>
<text x="338.20" y="356.80" font-size="8.7" font-weight="bold" text-anchor="middle" fill="#231815">Ishikawa</text>
<text x="427.10" y="356.80" font-size="8.7" font-weight="bold" text-anchor="middle" fill="#231815">HEC1A</text>
<rect x="475.80" y="227.20" width="13.30" height="6.50" fill="#231815"/>
<text x="495.20" y="233.25" font-size="8.65" text-anchor="start" fill="#231815">NC</text>
<rect x="476.50" y="240.20" width="11.90" height="5.00" fill="#b9b9ba" stroke="#231815" stroke-width="1.4"/>
<text x="495.20" y="245.45" font-size="8.65" text-anchor="start" fill="#231815">siRNA-1</text>
<rect x="476.50" y="252.90" width="11.90" height="5.10" fill="#fff" stroke="#231815" stroke-width="1.4"/>
<line x1="477.20" y1="254.60" x2="487.70" y2="254.60" stroke="#6a6a6a" stroke-width="0.8"/>
<line x1="477.20" y1="256.67" x2="487.70" y2="256.67" stroke="#6a6a6a" stroke-width="0.8"/>
<text x="495.20" y="258.25" font-size="8.65" text-anchor="start" fill="#231815">siRNA-2</text>
<rect x="476.50" y="265.30" width="11.90" height="5.10" fill="#fff" stroke="#231815" stroke-width="1.4"/>
<line x1="479.30" y1="266.00" x2="479.30" y2="269.70" stroke="#7a7a7a" stroke-width="0.8"/>
<line x1="481.40" y1="266.00" x2="481.40" y2="269.70" stroke="#7a7a7a" stroke-width="0.8"/>
<line x1="483.50" y1="266.00" x2="483.50" y2="269.70" stroke="#7a7a7a" stroke-width="0.8"/>
<line x1="485.60" y1="266.00" x2="485.60" y2="269.70" stroke="#7a7a7a" stroke-width="0.8"/>
<text x="495.20" y="270.65" font-size="8.65" text-anchor="start" fill="#231815">siRNA-3</text>
<text x="551.70" y="217.00" font-size="15.9" font-weight="bold" fill="#000" stroke="#000" stroke-width="0.4" stroke-linejoin="round">F</text>
<text transform="translate(661.80 241.80) scale(1.06 1)" font-size="9.4" font-weight="bold" text-anchor="middle" fill="#0d0d0d" stroke="#0d0d0d" stroke-width="0.2">Ishikawa</text>
<text transform="translate(746.00 241.80) scale(1.06 1)" font-size="9.4" font-weight="bold" text-anchor="middle" fill="#0d0d0d" stroke="#0d0d0d" stroke-width="0.2">HEC1A</text>
<line x1="628.40" y1="248.00" x2="691.10" y2="248.00" stroke="#111" stroke-width="1.6"/>
<line x1="711.90" y1="248.00" x2="774.20" y2="248.00" stroke="#111" stroke-width="1.6"/>
<text transform="translate(629.40 262.50) scale(1.06 1)" font-size="9.3" font-weight="bold" text-anchor="middle" fill="#0d0d0d" stroke="#0d0d0d" stroke-width="0.2">NC</text>
<text transform="translate(679.10 262.50) scale(1.06 1)" font-size="9.3" font-weight="bold" text-anchor="middle" fill="#0d0d0d" stroke="#0d0d0d" stroke-width="0.2">siRNA</text>
<text transform="translate(717.60 262.50) scale(1.06 1)" font-size="9.3" font-weight="bold" text-anchor="middle" fill="#0d0d0d" stroke="#0d0d0d" stroke-width="0.2">NC</text>
<text transform="translate(758.50 262.50) scale(1.06 1)" font-size="9.3" font-weight="bold" text-anchor="middle" fill="#0d0d0d" stroke="#0d0d0d" stroke-width="0.2">siRNA</text>
<text transform="translate(572.50 286.80) scale(1.06 1)" font-size="9.3" font-weight="bold" text-anchor="start" fill="#0d0d0d" stroke="#0d0d0d" stroke-width="0.2">HK2</text>
<text transform="translate(563.90 319.60) scale(1.06 1)" font-size="9.3" font-weight="bold" text-anchor="start" fill="#0d0d0d" stroke="#0d0d0d" stroke-width="0.2">GAPDH</text>
<clipPath id="cF1"><rect x="609.90" y="273.40" width="180.00" height="23.00"/></clipPath>
<rect x="609.90" y="273.40" width="180.00" height="23.00" fill="#f5f5f5"/>
<g clip-path="url(#cF1)">
<rect x="619.50" y="272.00" width="29.00" height="11.00" rx="5.50" fill="#000" opacity="0.68" filter="url(#b1)"/>
<rect x="615.80" y="280.30" width="34.00" height="6.80" rx="3.40" fill="#000" opacity="0.3" filter="url(#b2)"/>
<rect x="617.30" y="281.90" width="31.00" height="3.60" rx="1.80" fill="#000" opacity="1.0" filter="url(#b1)"/>
<rect x="659.50" y="282.60" width="30.00" height="2.80" rx="1.40" fill="#000" opacity="0.55" filter="url(#b1)"/>
<rect x="698.00" y="280.30" width="36.00" height="7.20" rx="3.60" fill="#000" opacity="0.3" filter="url(#b2)"/>
<rect x="699.50" y="281.90" width="33.00" height="4.00" rx="2.00" fill="#000" opacity="1.0" filter="url(#b1)"/>
<rect x="742.10" y="281.80" width="35.00" height="6.40" rx="3.20" fill="#000" opacity="0.3" filter="url(#b2)"/>
<rect x="743.60" y="283.40" width="32.00" height="3.20" rx="1.60" fill="#000" opacity="0.85" filter="url(#b1)"/>
</g>
<rect x="609.90" y="273.40" width="180.00" height="23.00" fill="none" stroke="#2a2a2a" stroke-width="1.15"/>
<clipPath id="cF2"><rect x="609.40" y="306.90" width="180.00" height="24.70"/></clipPath>
<rect x="609.40" y="306.90" width="180.00" height="24.70" fill="#f5f5f5"/>
<g clip-path="url(#cF2)">
<rect x="621.00" y="305.50" width="30.00" height="13.00" rx="6.50" fill="#000" opacity="0.36" filter="url(#b2)"/>
<rect x="619.00" y="315.30" width="34.00" height="9.40" rx="4.70" fill="#000" opacity="0.3" filter="url(#b2)"/>
<rect x="620.50" y="316.90" width="31.00" height="6.20" rx="3.10" fill="#000" opacity="1.0" filter="url(#b1)"/>
<rect x="656.00" y="316.00" width="36.00" height="9.60" rx="4.80" fill="#000" opacity="0.3" filter="url(#b2)"/>
<rect x="657.50" y="317.60" width="33.00" height="6.40" rx="3.20" fill="#000" opacity="0.9" filter="url(#b1)"/>
<rect x="694.80" y="315.10" width="38.00" height="9.40" rx="4.70" fill="#000" opacity="0.3" filter="url(#b2)"/>
<rect x="696.30" y="316.70" width="35.00" height="6.20" rx="3.10" fill="#000" opacity="0.97" filter="url(#b1)"/>
<rect x="736.00" y="315.60" width="38.00" height="9.40" rx="4.70" fill="#000" opacity="0.3" filter="url(#b2)"/>
<rect x="737.50" y="317.20" width="35.00" height="6.20" rx="3.10" fill="#000" opacity="1.0" filter="url(#b1)"/>
</g>
<rect x="609.40" y="306.90" width="180.00" height="24.70" fill="none" stroke="#2a2a2a" stroke-width="1.15"/>
<text x="2.90" y="414.10" font-size="16.6" font-weight="bold" fill="#000" stroke="#000" stroke-width="0.4" stroke-linejoin="round">G</text>
<line x1="28.80" y1="420.80" x2="28.80" y2="535.60" stroke="#231815" stroke-width="1.3"/>
<line x1="28.20" y1="535.00" x2="201.50" y2="535.00" stroke="#231815" stroke-width="1.3"/>
<line x1="25.10" y1="535.00" x2="28.80" y2="535.00" stroke="#231815" stroke-width="1.2"/>
<text x="24.30" y="537.70" font-size="8.1" font-weight="bold" text-anchor="end" fill="#231815">0.0</text>
<line x1="25.10" y1="512.28" x2="28.80" y2="512.28" stroke="#231815" stroke-width="1.2"/>
<text x="24.30" y="514.98" font-size="8.1" font-weight="bold" text-anchor="end" fill="#231815">0.5</text>
<line x1="25.10" y1="489.56" x2="28.80" y2="489.56" stroke="#231815" stroke-width="1.2"/>
<text x="24.30" y="492.26" font-size="8.1" font-weight="bold" text-anchor="end" fill="#231815">1.0</text>
<line x1="25.10" y1="466.84" x2="28.80" y2="466.84" stroke="#231815" stroke-width="1.2"/>
<text x="24.30" y="469.54" font-size="8.1" font-weight="bold" text-anchor="end" fill="#231815">1.5</text>
<line x1="25.10" y1="444.12" x2="28.80" y2="444.12" stroke="#231815" stroke-width="1.2"/>
<text x="24.30" y="446.82" font-size="8.1" font-weight="bold" text-anchor="end" fill="#231815">2.0</text>
<line x1="25.10" y1="421.40" x2="28.80" y2="421.40" stroke="#231815" stroke-width="1.2"/>
<text x="24.30" y="424.10" font-size="8.1" font-weight="bold" text-anchor="end" fill="#231815">2.5</text>
<line x1="29.00" y1="535.00" x2="29.00" y2="538.40" stroke="#231815" stroke-width="1.2"/>
<text x="29.00" y="546.90" font-size="8.1" font-weight="bold" text-anchor="middle" fill="#231815">0</text>
<line x1="57.65" y1="535.00" x2="57.65" y2="538.40" stroke="#231815" stroke-width="1.2"/>
<text x="57.65" y="546.90" font-size="8.1" font-weight="bold" text-anchor="middle" fill="#231815">1</text>
<line x1="86.30" y1="535.00" x2="86.30" y2="538.40" stroke="#231815" stroke-width="1.2"/>
<text x="86.30" y="546.90" font-size="8.1" font-weight="bold" text-anchor="middle" fill="#231815">2</text>
<line x1="114.95" y1="535.00" x2="114.95" y2="538.40" stroke="#231815" stroke-width="1.2"/>
<text x="114.95" y="546.90" font-size="8.1" font-weight="bold" text-anchor="middle" fill="#231815">3</text>
<line x1="143.60" y1="535.00" x2="143.60" y2="538.40" stroke="#231815" stroke-width="1.2"/>
<text x="143.60" y="546.90" font-size="8.1" font-weight="bold" text-anchor="middle" fill="#231815">4</text>
<line x1="172.25" y1="535.00" x2="172.25" y2="538.40" stroke="#231815" stroke-width="1.2"/>
<text x="172.25" y="546.90" font-size="8.1" font-weight="bold" text-anchor="middle" fill="#231815">5</text>
<line x1="200.90" y1="535.00" x2="200.90" y2="538.40" stroke="#231815" stroke-width="1.2"/>
<text x="200.90" y="546.90" font-size="8.1" font-weight="bold" text-anchor="middle" fill="#231815">6</text>
<text x="102.90" y="412.90" font-size="10.4" text-anchor="middle" fill="#231815">Ishikawa</text>
<text x="115.00" y="559.50" font-size="9.3" font-weight="bold" text-anchor="middle" fill="#231815">Days</text>
<text transform="translate(8.10 478.00) rotate(-90) scale(0.957 1)" font-size="9.64" font-weight="bold" text-anchor="middle" fill="#231815">OD value(nm)</text>
<polyline points="57.65,516.82 86.30,504.56 114.95,487.74 143.60,471.38 172.25,433.67" fill="none" stroke="#231815" stroke-width="1.3"/>
<line x1="57.65" y1="514.55" x2="57.65" y2="519.10" stroke="#231815" stroke-width="1.3"/>
<line x1="55.05" y1="514.55" x2="60.25" y2="514.55" stroke="#231815" stroke-width="1.3"/>
<line x1="55.05" y1="519.10" x2="60.25" y2="519.10" stroke="#231815" stroke-width="1.3"/>
<circle cx="57.65" cy="516.82" r="1.65" fill="#231815"/>
<line x1="86.30" y1="501.37" x2="86.30" y2="507.74" stroke="#231815" stroke-width="1.3"/>
<line x1="83.70" y1="501.37" x2="88.90" y2="501.37" stroke="#231815" stroke-width="1.3"/>
<line x1="83.70" y1="507.74" x2="88.90" y2="507.74" stroke="#231815" stroke-width="1.3"/>
<circle cx="86.30" cy="504.56" r="1.65" fill="#231815"/>
<line x1="114.95" y1="481.38" x2="114.95" y2="494.10" stroke="#231815" stroke-width="1.3"/>
<line x1="112.35" y1="481.38" x2="117.55" y2="481.38" stroke="#231815" stroke-width="1.3"/>
<line x1="112.35" y1="494.10" x2="117.55" y2="494.10" stroke="#231815" stroke-width="1.3"/>
<circle cx="114.95" cy="487.74" r="1.65" fill="#231815"/>
<line x1="143.60" y1="469.57" x2="143.60" y2="473.20" stroke="#231815" stroke-width="1.3"/>
<line x1="141.00" y1="469.57" x2="146.20" y2="469.57" stroke="#231815" stroke-width="1.3"/>
<line x1="141.00" y1="473.20" x2="146.20" y2="473.20" stroke="#231815" stroke-width="1.3"/>
<circle cx="143.60" cy="471.38" r="1.65" fill="#231815"/>
<circle cx="172.25" cy="433.67" r="1.65" fill="#231815"/>
<polyline points="57.65,519.78 86.30,513.19 114.95,502.74 143.60,486.83 172.25,455.48" fill="none" stroke="#231815" stroke-width="1.3"/>
<line x1="57.65" y1="517.96" x2="57.65" y2="521.60" stroke="#231815" stroke-width="1.3"/>
<line x1="55.05" y1="517.96" x2="60.25" y2="517.96" stroke="#231815" stroke-width="1.3"/>
<line x1="55.05" y1="521.60" x2="60.25" y2="521.60" stroke="#231815" stroke-width="1.3"/>
<rect x="56.05" y="518.18" width="3.20" height="3.20" fill="#231815"/>
<line x1="86.30" y1="510.01" x2="86.30" y2="516.37" stroke="#231815" stroke-width="1.3"/>
<line x1="83.70" y1="510.01" x2="88.90" y2="510.01" stroke="#231815" stroke-width="1.3"/>
<line x1="83.70" y1="516.37" x2="88.90" y2="516.37" stroke="#231815" stroke-width="1.3"/>
<rect x="84.70" y="511.59" width="3.20" height="3.20" fill="#231815"/>
<line x1="114.95" y1="501.83" x2="114.95" y2="503.65" stroke="#231815" stroke-width="1.3"/>
<line x1="112.35" y1="501.83" x2="117.55" y2="501.83" stroke="#231815" stroke-width="1.3"/>
<line x1="112.35" y1="503.65" x2="117.55" y2="503.65" stroke="#231815" stroke-width="1.3"/>
<rect x="113.35" y="501.14" width="3.20" height="3.20" fill="#231815"/>
<line x1="143.60" y1="481.38" x2="143.60" y2="492.29" stroke="#231815" stroke-width="1.3"/>
<line x1="141.00" y1="481.38" x2="146.20" y2="481.38" stroke="#231815" stroke-width="1.3"/>
<line x1="141.00" y1="492.29" x2="146.20" y2="492.29" stroke="#231815" stroke-width="1.3"/>
<rect x="142.00" y="485.23" width="3.20" height="3.20" fill="#231815"/>
<rect x="170.65" y="453.88" width="3.20" height="3.20" fill="#231815"/>
<text x="116.11" y="473.90" font-size="8.5" text-anchor="middle" fill="#231815">*</text>
<text x="142.75" y="464.20" font-size="8.5" text-anchor="middle" fill="#231815">*</text>
<text x="170.69" y="427.60" font-size="8.5" text-anchor="middle" fill="#231815">*</text>
<line x1="188.20" y1="430.80" x2="200.70" y2="430.80" stroke="#231815" stroke-width="1.3"/>
<circle cx="194.45" cy="430.80" r="1.65" fill="#231815"/>
<text x="207.50" y="433.70" font-size="9.05" text-anchor="start" fill="#231815">NC</text>
<line x1="188.20" y1="449.00" x2="200.70" y2="449.00" stroke="#231815" stroke-width="1.3"/>
<rect x="192.85" y="447.40" width="3.20" height="3.20" fill="#231815"/>
<text x="207.50" y="451.90" font-size="9.05" text-anchor="start" fill="#231815">HK2-siRNA</text>
<line x1="293.90" y1="427.40" x2="293.90" y2="537.50" stroke="#231815" stroke-width="1.3"/>
<line x1="293.30" y1="536.90" x2="457.80" y2="536.90" stroke="#231815" stroke-width="1.3"/>
<line x1="290.20" y1="536.90" x2="293.90" y2="536.90" stroke="#231815" stroke-width="1.2"/>
<text x="290.40" y="539.60" font-size="8.1" font-weight="bold" text-anchor="end" fill="#231815">0</text>
<line x1="290.20" y1="500.60" x2="293.90" y2="500.60" stroke="#231815" stroke-width="1.2"/>
<text x="290.40" y="503.30" font-size="8.1" font-weight="bold" text-anchor="end" fill="#231815">1</text>
<line x1="290.20" y1="464.30" x2="293.90" y2="464.30" stroke="#231815" stroke-width="1.2"/>
<text x="290.40" y="467.00" font-size="8.1" font-weight="bold" text-anchor="end" fill="#231815">2</text>
<line x1="290.20" y1="428.00" x2="293.90" y2="428.00" stroke="#231815" stroke-width="1.2"/>
<text x="290.40" y="430.70" font-size="8.1" font-weight="bold" text-anchor="end" fill="#231815">3</text>
<line x1="294.00" y1="536.90" x2="294.00" y2="540.30" stroke="#231815" stroke-width="1.2"/>
<text x="294.00" y="548.40" font-size="8.1" font-weight="bold" text-anchor="middle" fill="#231815">0</text>
<line x1="321.20" y1="536.90" x2="321.20" y2="540.30" stroke="#231815" stroke-width="1.2"/>
<text x="321.20" y="548.40" font-size="8.1" font-weight="bold" text-anchor="middle" fill="#231815">1</text>
<line x1="348.40" y1="536.90" x2="348.40" y2="540.30" stroke="#231815" stroke-width="1.2"/>
<text x="348.40" y="548.40" font-size="8.1" font-weight="bold" text-anchor="middle" fill="#231815">2</text>
<line x1="375.60" y1="536.90" x2="375.60" y2="540.30" stroke="#231815" stroke-width="1.2"/>
<text x="375.60" y="548.40" font-size="8.1" font-weight="bold" text-anchor="middle" fill="#231815">3</text>
<line x1="402.80" y1="536.90" x2="402.80" y2="540.30" stroke="#231815" stroke-width="1.2"/>
<text x="402.80" y="548.40" font-size="8.1" font-weight="bold" text-anchor="middle" fill="#231815">4</text>
<line x1="430.00" y1="536.90" x2="430.00" y2="540.30" stroke="#231815" stroke-width="1.2"/>
<text x="430.00" y="548.40" font-size="8.1" font-weight="bold" text-anchor="middle" fill="#231815">5</text>
<line x1="457.20" y1="536.90" x2="457.20" y2="540.30" stroke="#231815" stroke-width="1.2"/>
<text x="457.20" y="548.40" font-size="8.1" font-weight="bold" text-anchor="middle" fill="#231815">6</text>
<text x="351.80" y="425.90" font-size="10.4" text-anchor="middle" fill="#231815">HEC1A</text>
<text x="375.70" y="559.50" font-size="9.3" font-weight="bold" text-anchor="middle" fill="#231815">Days</text>
<text transform="translate(280.10 482.00) rotate(-90) scale(0.957 1)" font-size="9.64" font-weight="bold" text-anchor="middle" fill="#231815">OD value(nm)</text>
<polyline points="321.20,522.38 348.40,512.94 375.60,501.33 402.80,482.45 430.00,452.32" fill="none" stroke="#231815" stroke-width="1.3"/>
<line x1="321.20" y1="520.56" x2="321.20" y2="524.19" stroke="#231815" stroke-width="1.3"/>
<line x1="318.60" y1="520.56" x2="323.80" y2="520.56" stroke="#231815" stroke-width="1.3"/>
<line x1="318.60" y1="524.19" x2="323.80" y2="524.19" stroke="#231815" stroke-width="1.3"/>
<rect x="319.60" y="520.78" width="3.20" height="3.20" fill="#231815"/>
<line x1="348.40" y1="510.76" x2="348.40" y2="515.12" stroke="#231815" stroke-width="1.3"/>
<line x1="345.80" y1="510.76" x2="351.00" y2="510.76" stroke="#231815" stroke-width="1.3"/>
<line x1="345.80" y1="515.12" x2="351.00" y2="515.12" stroke="#231815" stroke-width="1.3"/>
<rect x="346.80" y="511.34" width="3.20" height="3.20" fill="#231815"/>
<line x1="375.60" y1="498.06" x2="375.60" y2="504.59" stroke="#231815" stroke-width="1.3"/>
<line x1="373.00" y1="498.06" x2="378.20" y2="498.06" stroke="#231815" stroke-width="1.3"/>
<line x1="373.00" y1="504.59" x2="378.20" y2="504.59" stroke="#231815" stroke-width="1.3"/>
<rect x="374.00" y="499.73" width="3.20" height="3.20" fill="#231815"/>
<line x1="402.80" y1="480.63" x2="402.80" y2="484.26" stroke="#231815" stroke-width="1.3"/>
<line x1="400.20" y1="480.63" x2="405.40" y2="480.63" stroke="#231815" stroke-width="1.3"/>
<line x1="400.20" y1="484.26" x2="405.40" y2="484.26" stroke="#231815" stroke-width="1.3"/>
<rect x="401.20" y="480.85" width="3.20" height="3.20" fill="#231815"/>
<line x1="430.00" y1="446.88" x2="430.00" y2="457.77" stroke="#231815" stroke-width="1.3"/>
<line x1="427.40" y1="446.88" x2="432.60" y2="446.88" stroke="#231815" stroke-width="1.3"/>
<line x1="427.40" y1="457.77" x2="432.60" y2="457.77" stroke="#231815" stroke-width="1.3"/>
<rect x="428.40" y="450.72" width="3.20" height="3.20" fill="#231815"/>
<polyline points="321.20,522.38 348.40,512.94 375.60,499.51 402.80,487.89 430.00,467.93" fill="none" stroke="#231815" stroke-width="1.3"/>
<line x1="321.20" y1="521.29" x2="321.20" y2="523.47" stroke="#231815" stroke-width="1.3"/>
<line x1="318.60" y1="521.29" x2="323.80" y2="521.29" stroke="#231815" stroke-width="1.3"/>
<line x1="318.60" y1="523.47" x2="323.80" y2="523.47" stroke="#231815" stroke-width="1.3"/>
<polygon points="319.10,522.38 321.20,520.28 323.30,522.38 321.20,524.48" fill="#231815"/>
<line x1="348.40" y1="511.13" x2="348.40" y2="514.76" stroke="#231815" stroke-width="1.3"/>
<line x1="345.80" y1="511.13" x2="351.00" y2="511.13" stroke="#231815" stroke-width="1.3"/>
<line x1="345.80" y1="514.76" x2="351.00" y2="514.76" stroke="#231815" stroke-width="1.3"/>
<polygon points="346.30,512.94 348.40,510.84 350.50,512.94 348.40,515.04" fill="#231815"/>
<line x1="375.60" y1="494.79" x2="375.60" y2="504.23" stroke="#231815" stroke-width="1.3"/>
<line x1="373.00" y1="494.79" x2="378.20" y2="494.79" stroke="#231815" stroke-width="1.3"/>
<line x1="373.00" y1="504.23" x2="378.20" y2="504.23" stroke="#231815" stroke-width="1.3"/>
<polygon points="373.50,499.51 375.60,497.41 377.70,499.51 375.60,501.61" fill="#231815"/>
<line x1="402.80" y1="481.00" x2="402.80" y2="494.79" stroke="#231815" stroke-width="1.3"/>
<line x1="400.20" y1="481.00" x2="405.40" y2="481.00" stroke="#231815" stroke-width="1.3"/>
<line x1="400.20" y1="494.79" x2="405.40" y2="494.79" stroke="#231815" stroke-width="1.3"/>
<polygon points="400.70,487.89 402.80,485.79 404.90,487.89 402.80,490.00" fill="#231815"/>
<line x1="430.00" y1="465.39" x2="430.00" y2="470.47" stroke="#231815" stroke-width="1.3"/>
<line x1="427.40" y1="465.39" x2="432.60" y2="465.39" stroke="#231815" stroke-width="1.3"/>
<line x1="427.40" y1="470.47" x2="432.60" y2="470.47" stroke="#231815" stroke-width="1.3"/>
<polygon points="427.90,467.93 430.00,465.83 432.10,467.93 430.00,470.03" fill="#231815"/>
<text x="430.84" y="443.80" font-size="8.5" text-anchor="middle" fill="#231815">*</text>
<line x1="464.60" y1="442.50" x2="477.10" y2="442.50" stroke="#231815" stroke-width="1.3"/>
<rect x="469.25" y="440.90" width="3.20" height="3.20" fill="#231815"/>
<text x="483.20" y="445.40" font-size="8.75" text-anchor="start" fill="#231815">NC</text>
<line x1="464.60" y1="454.60" x2="477.10" y2="454.60" stroke="#231815" stroke-width="1.3"/>
<polygon points="468.75,454.60 470.85,452.50 472.95,454.60 470.85,456.70" fill="#231815"/>
<text x="483.20" y="457.50" font-size="8.75" text-anchor="start" fill="#231815">HK2-siRNA</text>
<text x="545.30" y="414.30" font-size="15.9" font-weight="bold" fill="#000" stroke="#000" stroke-width="0.4" stroke-linejoin="round">H</text>
<line x1="599.40" y1="393.20" x2="599.40" y2="460.60" stroke="#231815" stroke-width="1.2"/>
<line x1="598.80" y1="460.00" x2="702.10" y2="460.00" stroke="#231815" stroke-width="1.2"/>
<line x1="597.20" y1="460.00" x2="599.40" y2="460.00" stroke="#231815" stroke-width="0.85"/>
<text x="597.10" y="461.80" font-size="5.0" font-weight="bold" text-anchor="end" fill="#231815">0</text>
<line x1="597.20" y1="446.74" x2="599.40" y2="446.74" stroke="#231815" stroke-width="0.85"/>
<text x="597.10" y="448.54" font-size="5.0" font-weight="bold" text-anchor="end" fill="#231815">5</text>
<line x1="597.20" y1="433.48" x2="599.40" y2="433.48" stroke="#231815" stroke-width="0.85"/>
<text x="597.10" y="435.28" font-size="5.0" font-weight="bold" text-anchor="end" fill="#231815">10</text>
<line x1="597.20" y1="420.22" x2="599.40" y2="420.22" stroke="#231815" stroke-width="0.85"/>
<text x="597.10" y="422.02" font-size="5.0" font-weight="bold" text-anchor="end" fill="#231815">15</text>
<line x1="597.20" y1="406.96" x2="599.40" y2="406.96" stroke="#231815" stroke-width="0.85"/>
<text x="597.10" y="408.76" font-size="5.0" font-weight="bold" text-anchor="end" fill="#231815">20</text>
<line x1="597.20" y1="393.70" x2="599.40" y2="393.70" stroke="#231815" stroke-width="0.85"/>
<text x="597.10" y="395.50" font-size="5.0" font-weight="bold" text-anchor="end" fill="#231815">25</text>
<text x="650.00" y="385.80" font-size="6.4" font-weight="bold" text-anchor="middle" fill="#231815">Ishikawa</text>
<text x="589.90" y="427.00" font-size="5.5" font-weight="bold" text-anchor="middle" fill="#231815" transform="rotate(-90 589.90 427.00)">Number of spheroids</text>
<rect x="609.10" y="410.90" width="33.80" height="49.10" fill="#231815"/>
<line x1="626.00" y1="399.40" x2="626.00" y2="411.30" stroke="#231815" stroke-width="1.2"/>
<line x1="620.90" y1="399.40" x2="633.70" y2="399.40" stroke="#231815" stroke-width="1.2"/>
<rect x="659.10" y="444.90" width="33.10" height="15.10" fill="#fff" stroke="#231815" stroke-width="1.2"/>
<line x1="675.65" y1="442.30" x2="675.65" y2="444.70" stroke="#231815" stroke-width="1.2"/>
<line x1="667.10" y1="442.30" x2="683.40" y2="442.30" stroke="#231815" stroke-width="1.2"/>
<polyline points="626.80,397.10 626.80,395.60 670.50,395.60 670.50,397.10" fill="none" stroke="#231815" stroke-width="0.85" stroke-linejoin="round"/>
<text x="646.80" y="395.00" font-size="5" font-weight="bold" text-anchor="middle" fill="#231815">*</text>
<text x="625.70" y="467.20" font-size="5.1" font-weight="bold" text-anchor="middle" fill="#231815">NC</text>
<text x="675.10" y="467.20" font-size="5.1" font-weight="bold" text-anchor="middle" fill="#231815">HK2-siRNA</text>
<line x1="599.10" y1="500.60" x2="599.10" y2="568.60" stroke="#231815" stroke-width="1.2"/>
<line x1="598.50" y1="568.00" x2="699.60" y2="568.00" stroke="#231815" stroke-width="1.2"/>
<line x1="596.90" y1="568.00" x2="599.10" y2="568.00" stroke="#231815" stroke-width="0.85"/>
<text x="596.80" y="569.80" font-size="5.0" font-weight="bold" text-anchor="end" fill="#231815">0</text>
<line x1="596.90" y1="545.70" x2="599.10" y2="545.70" stroke="#231815" stroke-width="0.85"/>
<text x="596.80" y="547.50" font-size="5.0" font-weight="bold" text-anchor="end" fill="#231815">5</text>
<line x1="596.90" y1="523.40" x2="599.10" y2="523.40" stroke="#231815" stroke-width="0.85"/>
<text x="596.80" y="525.20" font-size="5.0" font-weight="bold" text-anchor="end" fill="#231815">10</text>
<line x1="596.90" y1="501.10" x2="599.10" y2="501.10" stroke="#231815" stroke-width="0.85"/>
<text x="596.80" y="502.90" font-size="5.0" font-weight="bold" text-anchor="end" fill="#231815">15</text>
<text x="649.90" y="494.20" font-size="6.4" font-weight="bold" text-anchor="middle" fill="#231815">HEC1A</text>
<text x="589.20" y="534.70" font-size="5.5" font-weight="bold" text-anchor="middle" fill="#231815" transform="rotate(-90 589.20 534.70)">Number of spheroids</text>
<rect x="607.60" y="514.50" width="33.90" height="53.50" fill="#231815"/>
<line x1="624.55" y1="507.00" x2="624.55" y2="514.90" stroke="#231815" stroke-width="1.2"/>
<line x1="616.80" y1="507.00" x2="632.70" y2="507.00" stroke="#231815" stroke-width="1.2"/>
<rect x="657.70" y="543.10" width="33.20" height="24.90" fill="#fff" stroke="#231815" stroke-width="1.2"/>
<line x1="674.30" y1="538.80" x2="674.30" y2="542.90" stroke="#231815" stroke-width="1.2"/>
<line x1="666.70" y1="538.80" x2="682.50" y2="538.80" stroke="#231815" stroke-width="1.2"/>
<polyline points="625.00,504.40 625.00,502.90 669.60,502.90 669.60,504.40" fill="none" stroke="#231815" stroke-width="0.85" stroke-linejoin="round"/>
<text x="645.90" y="502.20" font-size="5" font-weight="bold" text-anchor="middle" fill="#231815">*</text>
<text x="623.40" y="574.50" font-size="5.1" font-weight="bold" text-anchor="middle" fill="#231815">NC</text>
<text x="674.80" y="574.50" font-size="5.1" font-weight="bold" text-anchor="middle" fill="#231815">HK2-siRNA</text>
<text x="4.60" y="616.00" font-size="15.9" font-weight="bold" fill="#000" stroke="#000" stroke-width="0.4" stroke-linejoin="round">I</text>
<text x="341.40" y="591.70" font-size="9.57" text-anchor="middle" fill="#111">KEGG Pathway Classification</text>
<line x1="122.40" y1="603.00" x2="122.40" y2="751.50" stroke="#222" stroke-width="0.7"/>
<line x1="116.40" y1="603.30" x2="122.40" y2="603.30" stroke="#222" stroke-width="0.7"/>
<text x="115.50" y="605.60" font-size="6.4" text-anchor="end" fill="#111">100</text>
<line x1="116.40" y1="640.27" x2="122.40" y2="640.27" stroke="#222" stroke-width="0.7"/>
<text x="115.50" y="642.57" font-size="6.4" text-anchor="end" fill="#111">10</text>
<line x1="116.40" y1="677.25" x2="122.40" y2="677.25" stroke="#222" stroke-width="0.7"/>
<text x="115.50" y="679.55" font-size="6.4" text-anchor="end" fill="#111">1</text>
<line x1="116.40" y1="714.23" x2="122.40" y2="714.23" stroke="#222" stroke-width="0.7"/>
<text x="115.50" y="716.52" font-size="6.4" text-anchor="end" fill="#111">0.1</text>
<line x1="116.40" y1="751.20" x2="122.40" y2="751.20" stroke="#222" stroke-width="0.7"/>
<text x="115.50" y="753.50" font-size="6.4" text-anchor="end" fill="#111">0.01</text>
<text x="99.20" y="678.00" font-size="8.65" text-anchor="middle" fill="#111" transform="rotate(-90 99.20 678.00)">Percent of genes</text>
<line x1="561.40" y1="603.00" x2="561.40" y2="751.50" stroke="#222" stroke-width="0.7"/>
<line x1="561.40" y1="603.30" x2="565.70" y2="603.30" stroke="#222" stroke-width="0.7"/>
<text x="567.20" y="602.30" font-size="6.1" text-anchor="start" fill="#111">7736</text>
<text x="567.20" y="609.10" font-size="6.1" text-anchor="start" fill="#8a8a8a">6</text>
<line x1="561.40" y1="640.27" x2="565.70" y2="640.27" stroke="#222" stroke-width="0.7"/>
<text x="567.20" y="639.27" font-size="6.1" text-anchor="start" fill="#111">774</text>
<text x="567.20" y="646.07" font-size="6.1" text-anchor="start" fill="#8a8a8a">1</text>
<line x1="561.40" y1="677.25" x2="565.70" y2="677.25" stroke="#222" stroke-width="0.7"/>
<text x="567.20" y="676.25" font-size="6.1" text-anchor="start" fill="#111">77</text>
<text x="567.20" y="683.05" font-size="6.1" text-anchor="start" fill="#8a8a8a">0</text>
<line x1="561.40" y1="714.23" x2="565.70" y2="714.23" stroke="#222" stroke-width="0.7"/>
<text x="567.20" y="713.23" font-size="6.1" text-anchor="start" fill="#111">8</text>
<text x="567.20" y="720.02" font-size="6.1" text-anchor="start" fill="#8a8a8a">0</text>
<line x1="561.40" y1="751.20" x2="565.70" y2="751.20" stroke="#222" stroke-width="0.7"/>
<text x="567.20" y="750.20" font-size="6.1" text-anchor="start" fill="#111">1</text>
<text x="567.20" y="757.00" font-size="6.1" text-anchor="start" fill="#8a8a8a">0</text>
<text x="594.20" y="677.30" font-size="8.7" text-anchor="middle" fill="#111" transform="rotate(-90 594.20 677.30)">Number of genes</text>
<rect x="138.80" y="632.00" width="3.35" height="119.20" fill="#6dab88"/>
<rect x="142.05" y="649.70" width="3.35" height="101.50" fill="#0c6b35"/>
<rect x="152.03" y="661.20" width="3.35" height="90.00" fill="#0c6b35"/>
<rect x="162.02" y="646.10" width="3.35" height="105.10" fill="#0c6b35"/>
<rect x="168.75" y="632.00" width="3.35" height="119.20" fill="#6dab88"/>
<rect x="172.00" y="639.90" width="3.35" height="111.30" fill="#0c6b35"/>
<rect x="181.99" y="681.40" width="3.35" height="69.80" fill="#3d87d6"/>
<rect x="188.72" y="632.00" width="3.35" height="119.20" fill="#8fbce8"/>
<rect x="191.97" y="626.70" width="3.35" height="124.50" fill="#3d87d6"/>
<rect x="198.70" y="632.00" width="3.35" height="119.20" fill="#8fbce8"/>
<rect x="201.95" y="637.70" width="3.35" height="113.50" fill="#3d87d6"/>
<rect x="208.69" y="632.00" width="3.35" height="119.20" fill="#e8b386"/>
<rect x="211.94" y="646.60" width="3.35" height="104.60" fill="#d87c2d"/>
<rect x="221.92" y="665.20" width="3.35" height="86.00" fill="#d87c2d"/>
<rect x="231.91" y="657.90" width="3.35" height="93.30" fill="#d87c2d"/>
<rect x="241.89" y="646.90" width="3.35" height="104.30" fill="#d87c2d"/>
<rect x="248.62" y="632.00" width="3.35" height="119.20" fill="#ee9698"/>
<rect x="251.87" y="634.80" width="3.35" height="116.40" fill="#e0454b"/>
<rect x="258.61" y="632.00" width="3.35" height="119.20" fill="#ee9698"/>
<rect x="261.86" y="657.30" width="3.35" height="93.90" fill="#e0454b"/>
<rect x="271.84" y="662.30" width="3.35" height="88.90" fill="#e0454b"/>
<rect x="281.83" y="647.20" width="3.35" height="104.00" fill="#e0454b"/>
<rect x="291.81" y="648.90" width="3.35" height="102.30" fill="#e0454b"/>
<rect x="298.54" y="632.00" width="3.35" height="119.20" fill="#ee9698"/>
<rect x="301.79" y="632.00" width="3.35" height="119.20" fill="#e0454b"/>
<rect x="311.78" y="652.00" width="3.35" height="99.20" fill="#e0454b"/>
<rect x="321.76" y="656.50" width="3.35" height="94.70" fill="#e0454b"/>
<rect x="331.75" y="656.50" width="3.35" height="94.70" fill="#8fd1a4"/>
<rect x="341.73" y="691.00" width="3.35" height="60.20" fill="#8fd1a4"/>
<rect x="348.46" y="632.00" width="3.35" height="119.20" fill="#c0e4cb"/>
<rect x="351.71" y="653.10" width="3.35" height="98.10" fill="#8fd1a4"/>
<rect x="358.45" y="632.00" width="3.35" height="119.20" fill="#c0e4cb"/>
<rect x="361.70" y="659.30" width="3.35" height="91.90" fill="#8fd1a4"/>
<rect x="371.68" y="658.70" width="3.35" height="92.50" fill="#8fd1a4"/>
<rect x="381.67" y="650.30" width="3.35" height="100.90" fill="#8fd1a4"/>
<rect x="391.65" y="663.20" width="3.35" height="88.00" fill="#8fd1a4"/>
<rect x="401.63" y="671.90" width="3.35" height="79.30" fill="#8fd1a4"/>
<rect x="411.62" y="691.00" width="3.35" height="60.20" fill="#8fd1a4"/>
<rect x="421.60" y="662.10" width="3.35" height="89.10" fill="#8fd1a4"/>
<rect x="428.34" y="632.00" width="3.35" height="119.20" fill="#c0e4cb"/>
<rect x="431.59" y="662.90" width="3.35" height="88.30" fill="#8fd1a4"/>
<rect x="441.57" y="668.50" width="3.35" height="82.70" fill="#8fd1a4"/>
<rect x="451.55" y="664.00" width="3.35" height="87.20" fill="#e79f10"/>
<rect x="461.54" y="657.60" width="3.35" height="93.60" fill="#e79f10"/>
<rect x="471.52" y="653.10" width="3.35" height="98.10" fill="#e79f10"/>
<rect x="481.51" y="651.40" width="3.35" height="99.80" fill="#e79f10"/>
<rect x="491.49" y="639.90" width="3.35" height="111.30" fill="#e79f10"/>
<rect x="501.47" y="667.70" width="3.35" height="83.50" fill="#e79f10"/>
<rect x="511.46" y="666.00" width="3.35" height="85.20" fill="#e79f10"/>
<rect x="521.44" y="632.00" width="3.35" height="119.20" fill="#e79f10"/>
<rect x="531.43" y="647.20" width="3.35" height="104.00" fill="#e79f10"/>
<rect x="541.41" y="641.20" width="3.35" height="110.00" fill="#e79f10"/>
<line x1="139.50" y1="751.50" x2="544.30" y2="751.50" stroke="#222" stroke-width="0.7"/>
<line x1="142.35" y1="751.50" x2="142.35" y2="753.80" stroke="#222" stroke-width="0.6"/>
<text x="144.55" y="757.90" font-size="7.15" text-anchor="end" fill="#111" transform="rotate(-79.6 144.55 757.90)">Cell growth and death</text>
<line x1="152.33" y1="751.50" x2="152.33" y2="753.80" stroke="#222" stroke-width="0.6"/>
<text x="154.53" y="757.90" font-size="7.15" text-anchor="end" fill="#111" transform="rotate(-79.6 154.53 757.90)">Cell motility</text>
<line x1="162.32" y1="751.50" x2="162.32" y2="753.80" stroke="#222" stroke-width="0.6"/>
<text x="164.52" y="757.90" font-size="7.15" text-anchor="end" fill="#111" transform="rotate(-79.6 164.52 757.90)">Cellular community</text>
<line x1="172.30" y1="751.50" x2="172.30" y2="753.80" stroke="#222" stroke-width="0.6"/>
<text x="174.50" y="757.90" font-size="7.15" text-anchor="end" fill="#111" transform="rotate(-79.6 174.50 757.90)">Transport and catabolism</text>
<line x1="182.29" y1="751.50" x2="182.29" y2="753.80" stroke="#222" stroke-width="0.6"/>
<text x="184.49" y="757.90" font-size="7.15" text-anchor="end" fill="#111" transform="rotate(-79.6 184.49 757.90)">Membrane transport</text>
<line x1="192.27" y1="751.50" x2="192.27" y2="753.80" stroke="#222" stroke-width="0.6"/>
<text x="194.47" y="757.90" font-size="7.15" text-anchor="end" fill="#111" transform="rotate(-79.6 194.47 757.90)">Signal transduction</text>
<line x1="202.25" y1="751.50" x2="202.25" y2="753.80" stroke="#222" stroke-width="0.6"/>
<text x="204.45" y="757.90" font-size="7.15" text-anchor="end" fill="#111" transform="rotate(-79.6 204.45 757.90)">Signaling molecules and interaction</text>
<line x1="212.24" y1="751.50" x2="212.24" y2="753.80" stroke="#222" stroke-width="0.6"/>
<text x="214.44" y="757.90" font-size="7.15" text-anchor="end" fill="#111" transform="rotate(-79.6 214.44 757.90)">Folding sorting and degradation</text>
<line x1="222.22" y1="751.50" x2="222.22" y2="753.80" stroke="#222" stroke-width="0.6"/>
<text x="224.42" y="757.90" font-size="7.15" text-anchor="end" fill="#111" transform="rotate(-79.6 224.42 757.90)">Replication and repair</text>
<line x1="232.21" y1="751.50" x2="232.21" y2="753.80" stroke="#222" stroke-width="0.6"/>
<text x="234.41" y="757.90" font-size="7.15" text-anchor="end" fill="#111" transform="rotate(-79.6 234.41 757.90)">Transcription</text>
<line x1="242.19" y1="751.50" x2="242.19" y2="753.80" stroke="#222" stroke-width="0.6"/>
<text x="244.39" y="757.90" font-size="7.15" text-anchor="end" fill="#111" transform="rotate(-79.6 244.39 757.90)">Translation</text>
<line x1="252.17" y1="751.50" x2="252.17" y2="753.80" stroke="#222" stroke-width="0.6"/>
<text x="254.37" y="757.90" font-size="7.15" text-anchor="end" fill="#111" transform="rotate(-79.6 254.37 757.90)">Cancers</text>
<line x1="262.16" y1="751.50" x2="262.16" y2="753.80" stroke="#222" stroke-width="0.6"/>
<text x="264.36" y="757.90" font-size="7.15" text-anchor="end" fill="#111" transform="rotate(-79.6 264.36 757.90)">Cardiovascular diseases</text>
<line x1="272.14" y1="751.50" x2="272.14" y2="753.80" stroke="#222" stroke-width="0.6"/>
<text x="274.34" y="757.90" font-size="7.15" text-anchor="end" fill="#111" transform="rotate(-79.6 274.34 757.90)">Drug resistance</text>
<line x1="282.13" y1="751.50" x2="282.13" y2="753.80" stroke="#222" stroke-width="0.6"/>
<text x="284.33" y="757.90" font-size="7.15" text-anchor="end" fill="#111" transform="rotate(-79.6 284.33 757.90)">Endocrine and metabolic diseases</text>
<line x1="292.11" y1="751.50" x2="292.11" y2="753.80" stroke="#222" stroke-width="0.6"/>
<text x="294.31" y="757.90" font-size="7.15" text-anchor="end" fill="#111" transform="rotate(-79.6 294.31 757.90)">Immune diseases</text>
<line x1="302.09" y1="751.50" x2="302.09" y2="753.80" stroke="#222" stroke-width="0.6"/>
<text x="304.29" y="757.90" font-size="7.15" text-anchor="end" fill="#111" transform="rotate(-79.6 304.29 757.90)">Infectious diseases</text>
<line x1="312.08" y1="751.50" x2="312.08" y2="753.80" stroke="#222" stroke-width="0.6"/>
<text x="314.28" y="757.90" font-size="7.15" text-anchor="end" fill="#111" transform="rotate(-79.6 314.28 757.90)">Neurodegenerative diseases</text>
<line x1="322.06" y1="751.50" x2="322.06" y2="753.80" stroke="#222" stroke-width="0.6"/>
<text x="324.26" y="757.90" font-size="7.15" text-anchor="end" fill="#111" transform="rotate(-79.6 324.26 757.90)">Substance dependence</text>
<line x1="332.05" y1="751.50" x2="332.05" y2="753.80" stroke="#222" stroke-width="0.6"/>
<text x="334.25" y="757.90" font-size="7.15" text-anchor="end" fill="#111" transform="rotate(-79.6 334.25 757.90)">Amino acid metabolism</text>
<line x1="342.03" y1="751.50" x2="342.03" y2="753.80" stroke="#222" stroke-width="0.6"/>
<text x="344.23" y="757.90" font-size="7.15" text-anchor="end" fill="#111" transform="rotate(-79.6 344.23 757.90)">Biosynthesis of other secondary metabolites</text>
<line x1="352.01" y1="751.50" x2="352.01" y2="753.80" stroke="#222" stroke-width="0.6"/>
<text x="354.21" y="757.90" font-size="7.15" text-anchor="end" fill="#111" transform="rotate(-79.6 354.21 757.90)">Carbohydrate metabolism</text>
<line x1="362.00" y1="751.50" x2="362.00" y2="753.80" stroke="#222" stroke-width="0.6"/>
<text x="364.20" y="757.90" font-size="7.15" text-anchor="end" fill="#111" transform="rotate(-79.6 364.20 757.90)">Energy metabolism</text>
<line x1="371.98" y1="751.50" x2="371.98" y2="753.80" stroke="#222" stroke-width="0.6"/>
<text x="374.18" y="757.90" font-size="7.15" text-anchor="end" fill="#111" transform="rotate(-79.6 374.18 757.90)">Glycan biosynthesis and metabolism</text>
<line x1="381.97" y1="751.50" x2="381.97" y2="753.80" stroke="#222" stroke-width="0.6"/>
<text x="384.17" y="757.90" font-size="7.15" text-anchor="end" fill="#111" transform="rotate(-79.6 384.17 757.90)">Lipid metabolism</text>
<line x1="391.95" y1="751.50" x2="391.95" y2="753.80" stroke="#222" stroke-width="0.6"/>
<text x="394.15" y="757.90" font-size="7.15" text-anchor="end" fill="#111" transform="rotate(-79.6 394.15 757.90)">Metabolism of cofactors and vitamins</text>
<line x1="401.93" y1="751.50" x2="401.93" y2="753.80" stroke="#222" stroke-width="0.6"/>
<text x="404.13" y="757.90" font-size="7.15" text-anchor="end" fill="#111" transform="rotate(-79.6 404.13 757.90)">Metabolism of other amino acids</text>
<line x1="411.92" y1="751.50" x2="411.92" y2="753.80" stroke="#222" stroke-width="0.6"/>
<text x="414.12" y="757.90" font-size="7.15" text-anchor="end" fill="#111" transform="rotate(-79.6 414.12 757.90)">Metabolism of terpenoids and polyketides</text>
<line x1="421.90" y1="751.50" x2="421.90" y2="753.80" stroke="#222" stroke-width="0.6"/>
<text x="424.10" y="757.90" font-size="7.15" text-anchor="end" fill="#111" transform="rotate(-79.6 424.10 757.90)">Nucleotide metabolism</text>
<line x1="431.89" y1="751.50" x2="431.89" y2="753.80" stroke="#222" stroke-width="0.6"/>
<text x="434.09" y="757.90" font-size="7.15" text-anchor="end" fill="#111" transform="rotate(-79.6 434.09 757.90)">Overview</text>
<line x1="441.87" y1="751.50" x2="441.87" y2="753.80" stroke="#222" stroke-width="0.6"/>
<text x="444.07" y="757.90" font-size="7.15" text-anchor="end" fill="#111" transform="rotate(-79.6 444.07 757.90)">Xenobiotics biodegradation and metabolism</text>
<line x1="451.85" y1="751.50" x2="451.85" y2="753.80" stroke="#222" stroke-width="0.6"/>
<text x="454.05" y="757.90" font-size="7.15" text-anchor="end" fill="#111" transform="rotate(-79.6 454.05 757.90)">Aging</text>
<line x1="461.84" y1="751.50" x2="461.84" y2="753.80" stroke="#222" stroke-width="0.6"/>
<text x="464.04" y="757.90" font-size="7.15" text-anchor="end" fill="#111" transform="rotate(-79.6 464.04 757.90)">Circulatory system</text>
<line x1="471.82" y1="751.50" x2="471.82" y2="753.80" stroke="#222" stroke-width="0.6"/>
<text x="474.02" y="757.90" font-size="7.15" text-anchor="end" fill="#111" transform="rotate(-79.6 474.02 757.90)">Development</text>
<line x1="481.81" y1="751.50" x2="481.81" y2="753.80" stroke="#222" stroke-width="0.6"/>
<text x="484.01" y="757.90" font-size="7.15" text-anchor="end" fill="#111" transform="rotate(-79.6 484.01 757.90)">Digestive system</text>
<line x1="491.79" y1="751.50" x2="491.79" y2="753.80" stroke="#222" stroke-width="0.6"/>
<text x="493.99" y="757.90" font-size="7.15" text-anchor="end" fill="#111" transform="rotate(-79.6 493.99 757.90)">Endocrine system</text>
<line x1="501.77" y1="751.50" x2="501.77" y2="753.80" stroke="#222" stroke-width="0.6"/>
<text x="503.97" y="757.90" font-size="7.15" text-anchor="end" fill="#111" transform="rotate(-79.6 503.97 757.90)">Environmental adaptation</text>
<line x1="511.76" y1="751.50" x2="511.76" y2="753.80" stroke="#222" stroke-width="0.6"/>
<text x="513.96" y="757.90" font-size="7.15" text-anchor="end" fill="#111" transform="rotate(-79.6 513.96 757.90)">Excretory system</text>
<line x1="521.74" y1="751.50" x2="521.74" y2="753.80" stroke="#222" stroke-width="0.6"/>
<text x="523.94" y="757.90" font-size="7.15" text-anchor="end" fill="#111" transform="rotate(-79.6 523.94 757.90)">Immune system</text>
<line x1="531.73" y1="751.50" x2="531.73" y2="753.80" stroke="#222" stroke-width="0.6"/>
<text x="533.93" y="757.90" font-size="7.15" text-anchor="end" fill="#111" transform="rotate(-79.6 533.93 757.90)">Nervous system</text>
<line x1="541.71" y1="751.50" x2="541.71" y2="753.80" stroke="#222" stroke-width="0.6"/>
<text x="543.91" y="757.90" font-size="7.15" text-anchor="end" fill="#111" transform="rotate(-79.6 543.91 757.90)">Sensory system</text>
<polyline points="129.30,835.50 118.20,911.60 148.30,911.60 157.50,846.70" fill="none" stroke="#0c6b35" stroke-width="1.0" stroke-linejoin="miter"/>
<text x="133.20" y="917.90" font-size="5.1" text-anchor="middle" fill="#222">Cellular</text>
<text x="133.20" y="921.60" font-size="5.1" text-anchor="middle" fill="#222">Processes</text>
<polyline points="170.80,824.60 158.10,911.60 178.20,911.60 181.70,887.20" fill="none" stroke="#3d87d6" stroke-width="1.0" stroke-linejoin="miter"/>
<text x="168.10" y="917.90" font-size="5.1" text-anchor="middle" fill="#222">Environmental</text>
<text x="168.10" y="921.60" font-size="5.1" text-anchor="middle" fill="#222">Information</text>
<text x="168.10" y="925.30" font-size="5.1" text-anchor="middle" fill="#222">Processing</text>
<polyline points="193.50,872.50 187.80,911.60 217.90,911.60 234.50,798.80" fill="none" stroke="#d87c2d" stroke-width="1.0" stroke-linejoin="miter"/>
<text x="202.90" y="917.90" font-size="5.1" text-anchor="middle" fill="#222">Genetic</text>
<text x="202.90" y="921.60" font-size="5.1" text-anchor="middle" fill="#222">Information</text>
<text x="202.90" y="925.30" font-size="5.1" text-anchor="middle" fill="#222">Processing</text>
<polyline points="246.40,784.10 227.80,911.60 297.80,911.60 309.60,832.40" fill="none" stroke="#e0454b" stroke-width="1.0" stroke-linejoin="miter"/>
<text x="262.70" y="917.90" font-size="5.1" text-anchor="middle" fill="#222">Human</text>
<text x="262.70" y="921.60" font-size="5.1" text-anchor="middle" fill="#222">Diseases</text>
<polyline points="318.70,835.90 307.60,911.60 417.80,911.60 418.20,909.30" fill="none" stroke="#8fd1a4" stroke-width="1.0" stroke-linejoin="miter"/>
<text x="362.60" y="917.90" font-size="5.1" text-anchor="middle" fill="#222">Metabolism</text>
<polyline points="447.20,777.30 427.40,911.60 517.60,911.60 532.30,810.50" fill="none" stroke="#e79f10" stroke-width="1.0" stroke-linejoin="miter"/>
<text x="472.50" y="917.90" font-size="5.1" text-anchor="middle" fill="#222">Organismal</text>
<text x="472.50" y="921.60" font-size="5.1" text-anchor="middle" fill="#222">Systems</text>
</svg>
</body></html>
